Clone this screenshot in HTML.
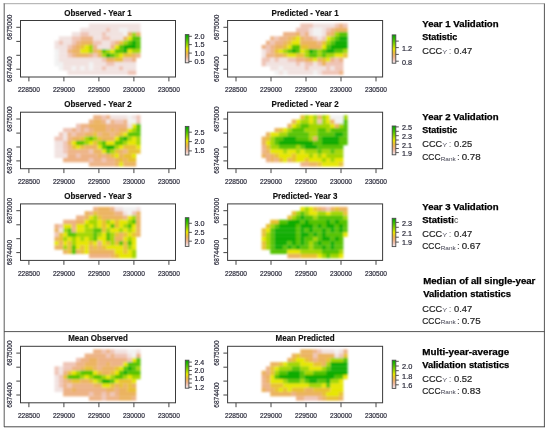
<!DOCTYPE html>
<html><head><meta charset="utf-8"><title>Validation maps</title>
<style>html,body{margin:0;padding:0;background:#fff;width:550px;height:433px;overflow:hidden}svg{display:block}</style>
</head><body>
<svg width="550" height="433" viewBox="0 0 550 433"><rect x="0" y="0" width="550" height="433" fill="#fff"/>
<defs><filter id="b0_0" x="-10%" y="-10%" width="120%" height="120%"><feGaussianBlur stdDeviation="1.0"/></filter></defs><g filter="url(#b0_0)"><rect x="88.90" y="23.50" width="51.65" height="4.33" fill="#f1e2e0"/><rect x="80.30" y="27.77" width="25.85" height="4.33" fill="#f1e2e0"/><rect x="106.10" y="27.77" width="4.35" height="4.33" fill="#efc4b6"/><rect x="110.40" y="27.77" width="8.65" height="4.33" fill="#f1e2e0"/><rect x="119.00" y="27.77" width="8.65" height="4.33" fill="#f2f2f2"/><rect x="127.60" y="27.77" width="12.95" height="4.33" fill="#f1e2e0"/><rect x="71.70" y="32.05" width="8.65" height="4.33" fill="#f1e2e0"/><rect x="80.30" y="32.05" width="8.65" height="4.33" fill="#efc4b6"/><rect x="88.90" y="32.05" width="12.95" height="4.33" fill="#f1e2e0"/><rect x="101.80" y="32.05" width="4.35" height="4.33" fill="#efc4b6"/><rect x="106.10" y="32.05" width="17.25" height="4.33" fill="#f1e2e0"/><rect x="123.30" y="32.05" width="4.35" height="4.33" fill="#f2f2f2"/><rect x="127.60" y="32.05" width="4.35" height="4.33" fill="#ebb25e"/><rect x="131.90" y="32.05" width="4.35" height="4.33" fill="#a3d600"/><rect x="136.20" y="32.05" width="4.35" height="4.33" fill="#ebb25e"/><rect x="58.80" y="36.33" width="12.95" height="4.33" fill="#f1e2e0"/><rect x="71.70" y="36.33" width="8.65" height="4.33" fill="#efc4b6"/><rect x="80.30" y="36.33" width="12.95" height="4.33" fill="#edb285"/><rect x="93.20" y="36.33" width="8.65" height="4.33" fill="#f1e2e0"/><rect x="101.80" y="36.33" width="8.65" height="4.33" fill="#efc4b6"/><rect x="110.40" y="36.33" width="12.95" height="4.33" fill="#f1e2e0"/><rect x="123.30" y="36.33" width="4.35" height="4.33" fill="#ebb25e"/><rect x="127.60" y="36.33" width="4.35" height="4.33" fill="#e6e600"/><rect x="131.90" y="36.33" width="8.65" height="4.33" fill="#55c200"/><rect x="54.50" y="40.60" width="4.35" height="4.33" fill="#f1e2e0"/><rect x="58.80" y="40.60" width="4.35" height="4.33" fill="#efc4b6"/><rect x="63.10" y="40.60" width="8.65" height="4.33" fill="#f1e2e0"/><rect x="71.70" y="40.60" width="4.35" height="4.33" fill="#efc4b6"/><rect x="76.00" y="40.60" width="4.35" height="4.33" fill="#edb285"/><rect x="80.30" y="40.60" width="12.95" height="4.33" fill="#ebb25e"/><rect x="93.20" y="40.60" width="8.65" height="4.33" fill="#efc4b6"/><rect x="101.80" y="40.60" width="8.65" height="4.33" fill="#f1e2e0"/><rect x="110.40" y="40.60" width="4.35" height="4.33" fill="#efc4b6"/><rect x="114.70" y="40.60" width="4.35" height="4.33" fill="#edb285"/><rect x="119.00" y="40.60" width="4.35" height="4.33" fill="#e8c033"/><rect x="123.30" y="40.60" width="4.35" height="4.33" fill="#a3d600"/><rect x="127.60" y="40.60" width="4.35" height="4.33" fill="#55c200"/><rect x="131.90" y="40.60" width="4.35" height="4.33" fill="#11ac00"/><rect x="136.20" y="40.60" width="4.35" height="4.33" fill="#55c200"/><rect x="54.50" y="44.88" width="12.95" height="4.33" fill="#f1e2e0"/><rect x="67.40" y="44.88" width="4.35" height="4.33" fill="#efc4b6"/><rect x="71.70" y="44.88" width="4.35" height="4.33" fill="#edb285"/><rect x="76.00" y="44.88" width="4.35" height="4.33" fill="#ebb25e"/><rect x="80.30" y="44.88" width="4.35" height="4.33" fill="#e8c033"/><rect x="84.60" y="44.88" width="4.35" height="4.33" fill="#e6e600"/><rect x="88.90" y="44.88" width="4.35" height="4.33" fill="#a3d600"/><rect x="93.20" y="44.88" width="4.35" height="4.33" fill="#edb285"/><rect x="97.50" y="44.88" width="12.95" height="4.33" fill="#f1e2e0"/><rect x="110.40" y="44.88" width="4.35" height="4.33" fill="#edb285"/><rect x="114.70" y="44.88" width="4.35" height="4.33" fill="#e6e600"/><rect x="119.00" y="44.88" width="4.35" height="4.33" fill="#55c200"/><rect x="123.30" y="44.88" width="12.95" height="4.33" fill="#11ac00"/><rect x="136.20" y="44.88" width="4.35" height="4.33" fill="#55c200"/><rect x="54.50" y="49.15" width="4.35" height="4.33" fill="#f2f2f2"/><rect x="58.80" y="49.15" width="8.65" height="4.33" fill="#f1e2e0"/><rect x="67.40" y="49.15" width="4.35" height="4.33" fill="#edb285"/><rect x="71.70" y="49.15" width="8.65" height="4.33" fill="#ebb25e"/><rect x="80.30" y="49.15" width="8.65" height="4.33" fill="#e6e600"/><rect x="88.90" y="49.15" width="4.35" height="4.33" fill="#a3d600"/><rect x="93.20" y="49.15" width="4.35" height="4.33" fill="#ebb25e"/><rect x="97.50" y="49.15" width="4.35" height="4.33" fill="#e8c033"/><rect x="101.80" y="49.15" width="4.35" height="4.33" fill="#55c200"/><rect x="106.10" y="49.15" width="4.35" height="4.33" fill="#a3d600"/><rect x="110.40" y="49.15" width="4.35" height="4.33" fill="#e6e600"/><rect x="114.70" y="49.15" width="8.65" height="4.33" fill="#55c200"/><rect x="123.30" y="49.15" width="4.35" height="4.33" fill="#11ac00"/><rect x="127.60" y="49.15" width="4.35" height="4.33" fill="#e6e600"/><rect x="131.90" y="49.15" width="8.65" height="4.33" fill="#a3d600"/><rect x="54.50" y="53.43" width="4.35" height="4.33" fill="#f2f2f2"/><rect x="58.80" y="53.43" width="8.65" height="4.33" fill="#f1e2e0"/><rect x="67.40" y="53.43" width="4.35" height="4.33" fill="#efc4b6"/><rect x="71.70" y="53.43" width="4.35" height="4.33" fill="#edb285"/><rect x="76.00" y="53.43" width="12.95" height="4.33" fill="#ebb25e"/><rect x="88.90" y="53.43" width="4.35" height="4.33" fill="#edb285"/><rect x="93.20" y="53.43" width="4.35" height="4.33" fill="#efc4b6"/><rect x="97.50" y="53.43" width="4.35" height="4.33" fill="#ebb25e"/><rect x="101.80" y="53.43" width="4.35" height="4.33" fill="#a3d600"/><rect x="106.10" y="53.43" width="4.35" height="4.33" fill="#11ac00"/><rect x="110.40" y="53.43" width="4.35" height="4.33" fill="#55c200"/><rect x="114.70" y="53.43" width="4.35" height="4.33" fill="#a3d600"/><rect x="119.00" y="53.43" width="4.35" height="4.33" fill="#e6e600"/><rect x="123.30" y="53.43" width="8.65" height="4.33" fill="#e8c033"/><rect x="131.90" y="53.43" width="4.35" height="4.33" fill="#ebb25e"/><rect x="136.20" y="53.43" width="4.35" height="4.33" fill="#edb285"/><rect x="54.50" y="57.70" width="4.35" height="4.33" fill="#f2f2f2"/><rect x="58.80" y="57.70" width="43.05" height="4.33" fill="#f1e2e0"/><rect x="101.80" y="57.70" width="4.35" height="4.33" fill="#efc4b6"/><rect x="106.10" y="57.70" width="8.65" height="4.33" fill="#ebb25e"/><rect x="114.70" y="57.70" width="8.65" height="4.33" fill="#e8c033"/><rect x="123.30" y="57.70" width="8.65" height="4.33" fill="#efc4b6"/><rect x="131.90" y="57.70" width="4.35" height="4.33" fill="#edb285"/><rect x="54.50" y="61.98" width="8.65" height="4.33" fill="#f2f2f2"/><rect x="63.10" y="61.98" width="25.85" height="4.33" fill="#f1e2e0"/><rect x="88.90" y="61.98" width="4.35" height="4.33" fill="#f2f2f2"/><rect x="93.20" y="61.98" width="12.95" height="4.33" fill="#f1e2e0"/><rect x="106.10" y="61.98" width="8.65" height="4.33" fill="#efc4b6"/><rect x="114.70" y="61.98" width="21.55" height="4.33" fill="#f1e2e0"/><rect x="58.80" y="66.25" width="4.35" height="4.33" fill="#f2f2f2"/><rect x="63.10" y="66.25" width="8.65" height="4.33" fill="#f1e2e0"/><rect x="71.70" y="66.25" width="4.35" height="4.33" fill="#f2f2f2"/><rect x="76.00" y="66.25" width="4.35" height="4.33" fill="#f1e2e0"/><rect x="80.30" y="66.25" width="4.35" height="4.33" fill="#f2f2f2"/><rect x="84.60" y="66.25" width="4.35" height="4.33" fill="#f1e2e0"/><rect x="88.90" y="66.25" width="4.35" height="4.33" fill="#f2f2f2"/><rect x="93.20" y="66.25" width="8.65" height="4.33" fill="#f1e2e0"/><rect x="101.80" y="66.25" width="4.35" height="4.33" fill="#efc4b6"/><rect x="106.10" y="66.25" width="12.95" height="4.33" fill="#f1e2e0"/><rect x="119.00" y="66.25" width="4.35" height="4.33" fill="#efc4b6"/><rect x="123.30" y="66.25" width="12.95" height="4.33" fill="#f1e2e0"/><rect x="67.40" y="70.53" width="60.25" height="4.33" fill="#f1e2e0"/><rect x="127.60" y="70.53" width="8.65" height="4.33" fill="#efc4b6"/></g>
<rect x="20.50" y="20.50" width="155.00" height="56.50" fill="none" stroke="#3a3a3a" stroke-width="1"/>
<line x1="16.30" y1="27.30" x2="20.50" y2="27.30" stroke="#444" stroke-width="1"/>
<line x1="16.30" y1="41.40" x2="20.50" y2="41.40" stroke="#444" stroke-width="1"/>
<line x1="16.30" y1="55.30" x2="20.50" y2="55.30" stroke="#444" stroke-width="1"/>
<line x1="16.30" y1="69.20" x2="20.50" y2="69.20" stroke="#444" stroke-width="1"/>
<line x1="28.90" y1="77.00" x2="28.90" y2="81.40" stroke="#444" stroke-width="1"/>
<line x1="63.90" y1="77.00" x2="63.90" y2="81.40" stroke="#444" stroke-width="1"/>
<line x1="98.90" y1="77.00" x2="98.90" y2="81.40" stroke="#444" stroke-width="1"/>
<line x1="133.90" y1="77.00" x2="133.90" y2="81.40" stroke="#444" stroke-width="1"/>
<line x1="168.90" y1="77.00" x2="168.90" y2="81.40" stroke="#444" stroke-width="1"/>
<text x="28.90" y="92.20" font-family="Liberation Sans, sans-serif" font-size="7.2" font-weight="normal" text-anchor="middle" fill="#2a2a3a" textLength="22.0" lengthAdjust="spacingAndGlyphs" stroke="#2a2a3a" stroke-width="0.2">228500</text>
<text x="63.90" y="92.20" font-family="Liberation Sans, sans-serif" font-size="7.2" font-weight="normal" text-anchor="middle" fill="#2a2a3a" textLength="22.0" lengthAdjust="spacingAndGlyphs" stroke="#2a2a3a" stroke-width="0.2">229000</text>
<text x="98.90" y="92.20" font-family="Liberation Sans, sans-serif" font-size="7.2" font-weight="normal" text-anchor="middle" fill="#2a2a3a" textLength="22.0" lengthAdjust="spacingAndGlyphs" stroke="#2a2a3a" stroke-width="0.2">229500</text>
<text x="133.90" y="92.20" font-family="Liberation Sans, sans-serif" font-size="7.2" font-weight="normal" text-anchor="middle" fill="#2a2a3a" textLength="22.0" lengthAdjust="spacingAndGlyphs" stroke="#2a2a3a" stroke-width="0.2">230000</text>
<text x="168.90" y="92.20" font-family="Liberation Sans, sans-serif" font-size="7.2" font-weight="normal" text-anchor="middle" fill="#2a2a3a" textLength="22.0" lengthAdjust="spacingAndGlyphs" stroke="#2a2a3a" stroke-width="0.2">230500</text>
<text x="0" y="0" transform="translate(12.00,27.30) rotate(-90)" font-family="Liberation Sans, sans-serif" font-size="7.2" text-anchor="middle" fill="#2a2a3a" stroke="#2a2a3a" stroke-width="0.2" textLength="25.5" lengthAdjust="spacingAndGlyphs">6875000</text>
<text x="0" y="0" transform="translate(12.00,69.20) rotate(-90)" font-family="Liberation Sans, sans-serif" font-size="7.2" text-anchor="middle" fill="#2a2a3a" stroke="#2a2a3a" stroke-width="0.2" textLength="25.5" lengthAdjust="spacingAndGlyphs">6874400</text>
<text x="98.00" y="15.60" font-family="Liberation Sans, sans-serif" font-size="8.5" font-weight="bold" text-anchor="middle" fill="#111" textLength="67.44" lengthAdjust="spacingAndGlyphs" stroke="#111" stroke-width="0.15">Observed - Year 1</text>
<defs><linearGradient id="g00" x1="0" y1="0" x2="0" y2="1"><stop offset="0.0" stop-color="#00a600"/><stop offset="0.1" stop-color="#24b200"/><stop offset="0.2" stop-color="#4cbf00"/><stop offset="0.3" stop-color="#7acc00"/><stop offset="0.4" stop-color="#add900"/><stop offset="0.5" stop-color="#e6e600"/><stop offset="0.6" stop-color="#e8c32e"/><stop offset="0.7" stop-color="#ebb25e"/><stop offset="0.8" stop-color="#edb48e"/><stop offset="0.9" stop-color="#f0c9c0"/><stop offset="1.0" stop-color="#f2f2f2"/></linearGradient></defs>
<rect x="185.30" y="34.60" width="3.60" height="28.20" fill="url(#g00)" stroke="#4a4a4a" stroke-width="0.9"/>
<line x1="188.90" y1="36.30" x2="191.90" y2="36.30" stroke="#444" stroke-width="0.9"/>
<text x="194.50" y="38.89" font-family="Liberation Sans, sans-serif" font-size="7.2" font-weight="normal" text-anchor="start" fill="#2a2a3a" stroke="#2a2a3a" stroke-width="0.2">2.0</text>
<line x1="188.90" y1="44.60" x2="191.90" y2="44.60" stroke="#444" stroke-width="0.9"/>
<text x="194.50" y="47.19" font-family="Liberation Sans, sans-serif" font-size="7.2" font-weight="normal" text-anchor="start" fill="#2a2a3a" stroke="#2a2a3a" stroke-width="0.2">1.5</text>
<line x1="188.90" y1="53.10" x2="191.90" y2="53.10" stroke="#444" stroke-width="0.9"/>
<text x="194.50" y="55.69" font-family="Liberation Sans, sans-serif" font-size="7.2" font-weight="normal" text-anchor="start" fill="#2a2a3a" stroke="#2a2a3a" stroke-width="0.2">1.0</text>
<line x1="188.90" y1="61.40" x2="191.90" y2="61.40" stroke="#444" stroke-width="0.9"/>
<text x="194.50" y="63.99" font-family="Liberation Sans, sans-serif" font-size="7.2" font-weight="normal" text-anchor="start" fill="#2a2a3a" stroke="#2a2a3a" stroke-width="0.2">0.5</text>
<defs><filter id="b207_0" x="-10%" y="-10%" width="120%" height="120%"><feGaussianBlur stdDeviation="1.0"/></filter></defs><g filter="url(#b207_0)"><rect x="300.30" y="23.50" width="12.95" height="4.33" fill="#efc4b6"/><rect x="313.20" y="23.50" width="21.55" height="4.33" fill="#f1e2e0"/><rect x="334.70" y="23.50" width="4.35" height="4.33" fill="#efc4b6"/><rect x="339.00" y="23.50" width="4.35" height="4.33" fill="#edb285"/><rect x="343.30" y="23.50" width="4.35" height="4.33" fill="#efc4b6"/><rect x="296.00" y="27.77" width="12.95" height="4.33" fill="#efc4b6"/><rect x="308.90" y="27.77" width="4.35" height="4.33" fill="#f1e2e0"/><rect x="313.20" y="27.77" width="8.65" height="4.33" fill="#f2f2f2"/><rect x="321.80" y="27.77" width="4.35" height="4.33" fill="#f1e2e0"/><rect x="326.10" y="27.77" width="4.35" height="4.33" fill="#efc4b6"/><rect x="330.40" y="27.77" width="4.35" height="4.33" fill="#edb285"/><rect x="334.70" y="27.77" width="12.95" height="4.33" fill="#ebb25e"/><rect x="283.10" y="32.05" width="12.95" height="4.33" fill="#edb285"/><rect x="296.00" y="32.05" width="4.35" height="4.33" fill="#ebb25e"/><rect x="300.30" y="32.05" width="4.35" height="4.33" fill="#efc4b6"/><rect x="304.60" y="32.05" width="4.35" height="4.33" fill="#edb285"/><rect x="308.90" y="32.05" width="4.35" height="4.33" fill="#f1e2e0"/><rect x="313.20" y="32.05" width="8.65" height="4.33" fill="#f2f2f2"/><rect x="321.80" y="32.05" width="4.35" height="4.33" fill="#f1e2e0"/><rect x="326.10" y="32.05" width="4.35" height="4.33" fill="#edb285"/><rect x="330.40" y="32.05" width="4.35" height="4.33" fill="#ebb25e"/><rect x="334.70" y="32.05" width="4.35" height="4.33" fill="#a3d600"/><rect x="339.00" y="32.05" width="8.65" height="4.33" fill="#55c200"/><rect x="270.20" y="36.33" width="4.35" height="4.33" fill="#edb285"/><rect x="274.50" y="36.33" width="4.35" height="4.33" fill="#efc4b6"/><rect x="278.80" y="36.33" width="8.65" height="4.33" fill="#edb285"/><rect x="287.40" y="36.33" width="4.35" height="4.33" fill="#ebb25e"/><rect x="291.70" y="36.33" width="4.35" height="4.33" fill="#e8c033"/><rect x="296.00" y="36.33" width="4.35" height="4.33" fill="#e6e600"/><rect x="300.30" y="36.33" width="4.35" height="4.33" fill="#ebb25e"/><rect x="304.60" y="36.33" width="8.65" height="4.33" fill="#edb285"/><rect x="313.20" y="36.33" width="4.35" height="4.33" fill="#efc4b6"/><rect x="317.50" y="36.33" width="4.35" height="4.33" fill="#f1e2e0"/><rect x="321.80" y="36.33" width="4.35" height="4.33" fill="#efc4b6"/><rect x="326.10" y="36.33" width="4.35" height="4.33" fill="#e6e600"/><rect x="330.40" y="36.33" width="4.35" height="4.33" fill="#a3d600"/><rect x="334.70" y="36.33" width="4.35" height="4.33" fill="#55c200"/><rect x="339.00" y="36.33" width="8.65" height="4.33" fill="#11ac00"/><rect x="265.90" y="40.60" width="4.35" height="4.33" fill="#edb285"/><rect x="270.20" y="40.60" width="4.35" height="4.33" fill="#efc4b6"/><rect x="274.50" y="40.60" width="8.65" height="4.33" fill="#edb285"/><rect x="283.10" y="40.60" width="4.35" height="4.33" fill="#ebb25e"/><rect x="287.40" y="40.60" width="4.35" height="4.33" fill="#e8c033"/><rect x="291.70" y="40.60" width="8.65" height="4.33" fill="#e6e600"/><rect x="300.30" y="40.60" width="17.25" height="4.33" fill="#ebb25e"/><rect x="317.50" y="40.60" width="4.35" height="4.33" fill="#edb285"/><rect x="321.80" y="40.60" width="4.35" height="4.33" fill="#e8c033"/><rect x="326.10" y="40.60" width="4.35" height="4.33" fill="#a3d600"/><rect x="330.40" y="40.60" width="4.35" height="4.33" fill="#55c200"/><rect x="334.70" y="40.60" width="12.95" height="4.33" fill="#11ac00"/><rect x="261.60" y="44.88" width="4.35" height="4.33" fill="#edb285"/><rect x="265.90" y="44.88" width="4.35" height="4.33" fill="#efc4b6"/><rect x="270.20" y="44.88" width="4.35" height="4.33" fill="#edb285"/><rect x="274.50" y="44.88" width="8.65" height="4.33" fill="#ebb25e"/><rect x="283.10" y="44.88" width="4.35" height="4.33" fill="#e8c033"/><rect x="287.40" y="44.88" width="4.35" height="4.33" fill="#e6e600"/><rect x="291.70" y="44.88" width="8.65" height="4.33" fill="#55c200"/><rect x="300.30" y="44.88" width="8.65" height="4.33" fill="#e8c033"/><rect x="308.90" y="44.88" width="12.95" height="4.33" fill="#ebb25e"/><rect x="321.80" y="44.88" width="4.35" height="4.33" fill="#e6e600"/><rect x="326.10" y="44.88" width="4.35" height="4.33" fill="#55c200"/><rect x="330.40" y="44.88" width="17.25" height="4.33" fill="#11ac00"/><rect x="261.60" y="49.15" width="4.35" height="4.33" fill="#f1e2e0"/><rect x="265.90" y="49.15" width="4.35" height="4.33" fill="#efc4b6"/><rect x="270.20" y="49.15" width="4.35" height="4.33" fill="#edb285"/><rect x="274.50" y="49.15" width="4.35" height="4.33" fill="#e8c033"/><rect x="278.80" y="49.15" width="4.35" height="4.33" fill="#e6e600"/><rect x="283.10" y="49.15" width="4.35" height="4.33" fill="#a3d600"/><rect x="287.40" y="49.15" width="4.35" height="4.33" fill="#55c200"/><rect x="291.70" y="49.15" width="4.35" height="4.33" fill="#11ac00"/><rect x="296.00" y="49.15" width="4.35" height="4.33" fill="#55c200"/><rect x="300.30" y="49.15" width="4.35" height="4.33" fill="#e6e600"/><rect x="304.60" y="49.15" width="4.35" height="4.33" fill="#a3d600"/><rect x="308.90" y="49.15" width="4.35" height="4.33" fill="#11ac00"/><rect x="313.20" y="49.15" width="4.35" height="4.33" fill="#55c200"/><rect x="317.50" y="49.15" width="4.35" height="4.33" fill="#a3d600"/><rect x="321.80" y="49.15" width="4.35" height="4.33" fill="#55c200"/><rect x="326.10" y="49.15" width="8.65" height="4.33" fill="#11ac00"/><rect x="334.70" y="49.15" width="8.65" height="4.33" fill="#55c200"/><rect x="343.30" y="49.15" width="4.35" height="4.33" fill="#a3d600"/><rect x="261.60" y="53.43" width="4.35" height="4.33" fill="#f1e2e0"/><rect x="265.90" y="53.43" width="8.65" height="4.33" fill="#edb285"/><rect x="274.50" y="53.43" width="8.65" height="4.33" fill="#ebb25e"/><rect x="283.10" y="53.43" width="4.35" height="4.33" fill="#e8c033"/><rect x="287.40" y="53.43" width="8.65" height="4.33" fill="#e6e600"/><rect x="296.00" y="53.43" width="8.65" height="4.33" fill="#e8c033"/><rect x="304.60" y="53.43" width="4.35" height="4.33" fill="#a3d600"/><rect x="308.90" y="53.43" width="8.65" height="4.33" fill="#55c200"/><rect x="317.50" y="53.43" width="4.35" height="4.33" fill="#a3d600"/><rect x="321.80" y="53.43" width="4.35" height="4.33" fill="#55c200"/><rect x="326.10" y="53.43" width="8.65" height="4.33" fill="#a3d600"/><rect x="334.70" y="53.43" width="8.65" height="4.33" fill="#e6e600"/><rect x="343.30" y="53.43" width="4.35" height="4.33" fill="#e8c033"/><rect x="261.60" y="57.70" width="8.65" height="4.33" fill="#efc4b6"/><rect x="270.20" y="57.70" width="4.35" height="4.33" fill="#f1e2e0"/><rect x="274.50" y="57.70" width="4.35" height="4.33" fill="#efc4b6"/><rect x="278.80" y="57.70" width="8.65" height="4.33" fill="#f1e2e0"/><rect x="287.40" y="57.70" width="8.65" height="4.33" fill="#efc4b6"/><rect x="296.00" y="57.70" width="8.65" height="4.33" fill="#edb285"/><rect x="304.60" y="57.70" width="4.35" height="4.33" fill="#ebb25e"/><rect x="308.90" y="57.70" width="4.35" height="4.33" fill="#e8c033"/><rect x="313.20" y="57.70" width="4.35" height="4.33" fill="#e6e600"/><rect x="317.50" y="57.70" width="4.35" height="4.33" fill="#ebb25e"/><rect x="321.80" y="57.70" width="4.35" height="4.33" fill="#e8c033"/><rect x="326.10" y="57.70" width="4.35" height="4.33" fill="#e6e600"/><rect x="330.40" y="57.70" width="4.35" height="4.33" fill="#edb285"/><rect x="334.70" y="57.70" width="4.35" height="4.33" fill="#efc4b6"/><rect x="339.00" y="57.70" width="4.35" height="4.33" fill="#edb285"/><rect x="261.60" y="61.98" width="4.35" height="4.33" fill="#efc4b6"/><rect x="265.90" y="61.98" width="30.15" height="4.33" fill="#f1e2e0"/><rect x="296.00" y="61.98" width="4.35" height="4.33" fill="#efc4b6"/><rect x="300.30" y="61.98" width="4.35" height="4.33" fill="#f1e2e0"/><rect x="304.60" y="61.98" width="8.65" height="4.33" fill="#efc4b6"/><rect x="313.20" y="61.98" width="4.35" height="4.33" fill="#f1e2e0"/><rect x="317.50" y="61.98" width="4.35" height="4.33" fill="#efc4b6"/><rect x="321.80" y="61.98" width="4.35" height="4.33" fill="#ebb25e"/><rect x="326.10" y="61.98" width="17.25" height="4.33" fill="#efc4b6"/><rect x="270.20" y="66.25" width="8.65" height="4.33" fill="#f1e2e0"/><rect x="278.80" y="66.25" width="4.35" height="4.33" fill="#f2f2f2"/><rect x="283.10" y="66.25" width="21.55" height="4.33" fill="#f1e2e0"/><rect x="304.60" y="66.25" width="4.35" height="4.33" fill="#efc4b6"/><rect x="308.90" y="66.25" width="17.25" height="4.33" fill="#f1e2e0"/><rect x="326.10" y="66.25" width="4.35" height="4.33" fill="#efc4b6"/><rect x="330.40" y="66.25" width="4.35" height="4.33" fill="#f1e2e0"/><rect x="334.70" y="66.25" width="8.65" height="4.33" fill="#efc4b6"/><rect x="274.50" y="70.53" width="4.35" height="4.33" fill="#f2f2f2"/><rect x="278.80" y="70.53" width="4.35" height="4.33" fill="#f1e2e0"/><rect x="283.10" y="70.53" width="4.35" height="4.33" fill="#f2f2f2"/><rect x="287.40" y="70.53" width="25.85" height="4.33" fill="#f1e2e0"/><rect x="313.20" y="70.53" width="4.35" height="4.33" fill="#f2f2f2"/><rect x="317.50" y="70.53" width="4.35" height="4.33" fill="#f1e2e0"/><rect x="321.80" y="70.53" width="17.25" height="4.33" fill="#efc4b6"/><rect x="339.00" y="70.53" width="4.35" height="4.33" fill="#edb285"/></g>
<rect x="227.60" y="20.50" width="155.00" height="56.50" fill="none" stroke="#3a3a3a" stroke-width="1"/>
<line x1="223.40" y1="27.30" x2="227.60" y2="27.30" stroke="#444" stroke-width="1"/>
<line x1="223.40" y1="41.40" x2="227.60" y2="41.40" stroke="#444" stroke-width="1"/>
<line x1="223.40" y1="55.30" x2="227.60" y2="55.30" stroke="#444" stroke-width="1"/>
<line x1="223.40" y1="69.20" x2="227.60" y2="69.20" stroke="#444" stroke-width="1"/>
<line x1="236.00" y1="77.00" x2="236.00" y2="81.40" stroke="#444" stroke-width="1"/>
<line x1="271.00" y1="77.00" x2="271.00" y2="81.40" stroke="#444" stroke-width="1"/>
<line x1="306.00" y1="77.00" x2="306.00" y2="81.40" stroke="#444" stroke-width="1"/>
<line x1="341.00" y1="77.00" x2="341.00" y2="81.40" stroke="#444" stroke-width="1"/>
<line x1="376.00" y1="77.00" x2="376.00" y2="81.40" stroke="#444" stroke-width="1"/>
<text x="236.00" y="92.20" font-family="Liberation Sans, sans-serif" font-size="7.2" font-weight="normal" text-anchor="middle" fill="#2a2a3a" textLength="22.0" lengthAdjust="spacingAndGlyphs" stroke="#2a2a3a" stroke-width="0.2">228500</text>
<text x="271.00" y="92.20" font-family="Liberation Sans, sans-serif" font-size="7.2" font-weight="normal" text-anchor="middle" fill="#2a2a3a" textLength="22.0" lengthAdjust="spacingAndGlyphs" stroke="#2a2a3a" stroke-width="0.2">229000</text>
<text x="306.00" y="92.20" font-family="Liberation Sans, sans-serif" font-size="7.2" font-weight="normal" text-anchor="middle" fill="#2a2a3a" textLength="22.0" lengthAdjust="spacingAndGlyphs" stroke="#2a2a3a" stroke-width="0.2">229500</text>
<text x="341.00" y="92.20" font-family="Liberation Sans, sans-serif" font-size="7.2" font-weight="normal" text-anchor="middle" fill="#2a2a3a" textLength="22.0" lengthAdjust="spacingAndGlyphs" stroke="#2a2a3a" stroke-width="0.2">230000</text>
<text x="376.00" y="92.20" font-family="Liberation Sans, sans-serif" font-size="7.2" font-weight="normal" text-anchor="middle" fill="#2a2a3a" textLength="22.0" lengthAdjust="spacingAndGlyphs" stroke="#2a2a3a" stroke-width="0.2">230500</text>
<text x="0" y="0" transform="translate(219.10,27.30) rotate(-90)" font-family="Liberation Sans, sans-serif" font-size="7.2" text-anchor="middle" fill="#2a2a3a" stroke="#2a2a3a" stroke-width="0.2" textLength="25.5" lengthAdjust="spacingAndGlyphs">6875000</text>
<text x="0" y="0" transform="translate(219.10,69.20) rotate(-90)" font-family="Liberation Sans, sans-serif" font-size="7.2" text-anchor="middle" fill="#2a2a3a" stroke="#2a2a3a" stroke-width="0.2" textLength="25.5" lengthAdjust="spacingAndGlyphs">6874400</text>
<text x="305.10" y="15.60" font-family="Liberation Sans, sans-serif" font-size="8.5" font-weight="bold" text-anchor="middle" fill="#111" textLength="67.0" lengthAdjust="spacingAndGlyphs" stroke="#111" stroke-width="0.15">Predicted - Year 1</text>
<defs><linearGradient id="g01" x1="0" y1="0" x2="0" y2="1"><stop offset="0.0" stop-color="#00a600"/><stop offset="0.1" stop-color="#24b200"/><stop offset="0.2" stop-color="#4cbf00"/><stop offset="0.3" stop-color="#7acc00"/><stop offset="0.4" stop-color="#add900"/><stop offset="0.5" stop-color="#e6e600"/><stop offset="0.6" stop-color="#e8c32e"/><stop offset="0.7" stop-color="#ebb25e"/><stop offset="0.8" stop-color="#edb48e"/><stop offset="0.9" stop-color="#f0c9c0"/><stop offset="1.0" stop-color="#f2f2f2"/></linearGradient></defs>
<rect x="392.20" y="34.90" width="3.60" height="28.30" fill="url(#g01)" stroke="#4a4a4a" stroke-width="0.9"/>
<line x1="395.80" y1="41.10" x2="398.80" y2="41.10" stroke="#444" stroke-width="0.9"/>
<line x1="395.80" y1="47.60" x2="398.80" y2="47.60" stroke="#444" stroke-width="0.9"/>
<text x="402.10" y="50.95" font-family="Liberation Sans, sans-serif" font-size="7.2" font-weight="normal" text-anchor="start" fill="#2a2a3a" stroke="#2a2a3a" stroke-width="0.2">1.2</text>
<line x1="395.80" y1="54.40" x2="398.80" y2="54.40" stroke="#444" stroke-width="0.9"/>
<line x1="395.80" y1="61.20" x2="398.80" y2="61.20" stroke="#444" stroke-width="0.9"/>
<text x="402.10" y="64.55" font-family="Liberation Sans, sans-serif" font-size="7.2" font-weight="normal" text-anchor="start" fill="#2a2a3a" stroke="#2a2a3a" stroke-width="0.2">0.8</text>
<defs><filter id="b0_91" x="-10%" y="-10%" width="120%" height="120%"><feGaussianBlur stdDeviation="1.0"/></filter></defs><g filter="url(#b0_91)"><rect x="93.20" y="115.20" width="8.65" height="4.33" fill="#edb285"/><rect x="101.80" y="115.20" width="4.35" height="4.33" fill="#efc4b6"/><rect x="106.10" y="115.20" width="4.35" height="4.33" fill="#edb285"/><rect x="110.40" y="115.20" width="17.25" height="4.33" fill="#f1e2e0"/><rect x="127.60" y="115.20" width="4.35" height="4.33" fill="#f2f2f2"/><rect x="131.90" y="115.20" width="4.35" height="4.33" fill="#f1e2e0"/><rect x="136.20" y="115.20" width="4.35" height="4.33" fill="#efc4b6"/><rect x="88.90" y="119.48" width="4.35" height="4.33" fill="#edb285"/><rect x="93.20" y="119.48" width="8.65" height="4.33" fill="#ebb25e"/><rect x="101.80" y="119.48" width="4.35" height="4.33" fill="#edb285"/><rect x="106.10" y="119.48" width="4.35" height="4.33" fill="#f1e2e0"/><rect x="110.40" y="119.48" width="4.35" height="4.33" fill="#edb285"/><rect x="114.70" y="119.48" width="8.65" height="4.33" fill="#efc4b6"/><rect x="123.30" y="119.48" width="4.35" height="4.33" fill="#edb285"/><rect x="127.60" y="119.48" width="8.65" height="4.33" fill="#f2f2f2"/><rect x="136.20" y="119.48" width="4.35" height="4.33" fill="#efc4b6"/><rect x="76.00" y="123.75" width="4.35" height="4.33" fill="#efc4b6"/><rect x="80.30" y="123.75" width="8.65" height="4.33" fill="#edb285"/><rect x="88.90" y="123.75" width="17.25" height="4.33" fill="#ebb25e"/><rect x="106.10" y="123.75" width="21.55" height="4.33" fill="#edb285"/><rect x="127.60" y="123.75" width="4.35" height="4.33" fill="#f1e2e0"/><rect x="131.90" y="123.75" width="4.35" height="4.33" fill="#e6e600"/><rect x="136.20" y="123.75" width="4.35" height="4.33" fill="#55c200"/><rect x="63.10" y="128.03" width="8.65" height="4.33" fill="#efc4b6"/><rect x="71.70" y="128.03" width="4.35" height="4.33" fill="#edb285"/><rect x="76.00" y="128.03" width="4.35" height="4.33" fill="#efc4b6"/><rect x="80.30" y="128.03" width="4.35" height="4.33" fill="#edb285"/><rect x="84.60" y="128.03" width="4.35" height="4.33" fill="#efc4b6"/><rect x="88.90" y="128.03" width="4.35" height="4.33" fill="#edb285"/><rect x="93.20" y="128.03" width="12.95" height="4.33" fill="#ebb25e"/><rect x="106.10" y="128.03" width="4.35" height="4.33" fill="#edb285"/><rect x="110.40" y="128.03" width="4.35" height="4.33" fill="#ebb25e"/><rect x="114.70" y="128.03" width="4.35" height="4.33" fill="#edb285"/><rect x="119.00" y="128.03" width="8.65" height="4.33" fill="#ebb25e"/><rect x="127.60" y="128.03" width="4.35" height="4.33" fill="#e6e600"/><rect x="131.90" y="128.03" width="4.35" height="4.33" fill="#a3d600"/><rect x="136.20" y="128.03" width="4.35" height="4.33" fill="#55c200"/><rect x="58.80" y="132.30" width="4.35" height="4.33" fill="#efc4b6"/><rect x="63.10" y="132.30" width="4.35" height="4.33" fill="#f1e2e0"/><rect x="67.40" y="132.30" width="4.35" height="4.33" fill="#edb285"/><rect x="71.70" y="132.30" width="4.35" height="4.33" fill="#efc4b6"/><rect x="76.00" y="132.30" width="8.65" height="4.33" fill="#edb285"/><rect x="84.60" y="132.30" width="8.65" height="4.33" fill="#ebb25e"/><rect x="93.20" y="132.30" width="4.35" height="4.33" fill="#e8c033"/><rect x="97.50" y="132.30" width="4.35" height="4.33" fill="#edb285"/><rect x="101.80" y="132.30" width="8.65" height="4.33" fill="#ebb25e"/><rect x="110.40" y="132.30" width="4.35" height="4.33" fill="#edb285"/><rect x="114.70" y="132.30" width="4.35" height="4.33" fill="#ebb25e"/><rect x="119.00" y="132.30" width="4.35" height="4.33" fill="#e8c033"/><rect x="123.30" y="132.30" width="4.35" height="4.33" fill="#e6e600"/><rect x="127.60" y="132.30" width="12.95" height="4.33" fill="#55c200"/><rect x="54.50" y="136.57" width="8.65" height="4.33" fill="#efc4b6"/><rect x="63.10" y="136.57" width="4.35" height="4.33" fill="#f1e2e0"/><rect x="67.40" y="136.57" width="4.35" height="4.33" fill="#edb285"/><rect x="71.70" y="136.57" width="8.65" height="4.33" fill="#ebb25e"/><rect x="80.30" y="136.57" width="4.35" height="4.33" fill="#e8c033"/><rect x="84.60" y="136.57" width="4.35" height="4.33" fill="#a3d600"/><rect x="88.90" y="136.57" width="4.35" height="4.33" fill="#55c200"/><rect x="93.20" y="136.57" width="4.35" height="4.33" fill="#a3d600"/><rect x="97.50" y="136.57" width="4.35" height="4.33" fill="#e8c033"/><rect x="101.80" y="136.57" width="12.95" height="4.33" fill="#ebb25e"/><rect x="114.70" y="136.57" width="4.35" height="4.33" fill="#e6e600"/><rect x="119.00" y="136.57" width="4.35" height="4.33" fill="#55c200"/><rect x="123.30" y="136.57" width="4.35" height="4.33" fill="#11ac00"/><rect x="127.60" y="136.57" width="4.35" height="4.33" fill="#a3d600"/><rect x="131.90" y="136.57" width="4.35" height="4.33" fill="#e6e600"/><rect x="136.20" y="136.57" width="4.35" height="4.33" fill="#a3d600"/><rect x="54.50" y="140.85" width="8.65" height="4.33" fill="#f1e2e0"/><rect x="63.10" y="140.85" width="4.35" height="4.33" fill="#efc4b6"/><rect x="67.40" y="140.85" width="4.35" height="4.33" fill="#ebb25e"/><rect x="71.70" y="140.85" width="4.35" height="4.33" fill="#e6e600"/><rect x="76.00" y="140.85" width="8.65" height="4.33" fill="#55c200"/><rect x="84.60" y="140.85" width="4.35" height="4.33" fill="#a3d600"/><rect x="88.90" y="140.85" width="4.35" height="4.33" fill="#e6e600"/><rect x="93.20" y="140.85" width="4.35" height="4.33" fill="#e8c033"/><rect x="97.50" y="140.85" width="4.35" height="4.33" fill="#a3d600"/><rect x="101.80" y="140.85" width="4.35" height="4.33" fill="#55c200"/><rect x="106.10" y="140.85" width="8.65" height="4.33" fill="#e6e600"/><rect x="114.70" y="140.85" width="8.65" height="4.33" fill="#55c200"/><rect x="123.30" y="140.85" width="4.35" height="4.33" fill="#a3d600"/><rect x="127.60" y="140.85" width="8.65" height="4.33" fill="#e6e600"/><rect x="136.20" y="140.85" width="4.35" height="4.33" fill="#a3d600"/><rect x="54.50" y="145.12" width="8.65" height="4.33" fill="#f1e2e0"/><rect x="63.10" y="145.12" width="4.35" height="4.33" fill="#efc4b6"/><rect x="67.40" y="145.12" width="4.35" height="4.33" fill="#edb285"/><rect x="71.70" y="145.12" width="4.35" height="4.33" fill="#e8c033"/><rect x="76.00" y="145.12" width="4.35" height="4.33" fill="#e6e600"/><rect x="80.30" y="145.12" width="4.35" height="4.33" fill="#e8c033"/><rect x="84.60" y="145.12" width="12.95" height="4.33" fill="#ebb25e"/><rect x="97.50" y="145.12" width="4.35" height="4.33" fill="#e6e600"/><rect x="101.80" y="145.12" width="4.35" height="4.33" fill="#55c200"/><rect x="106.10" y="145.12" width="8.65" height="4.33" fill="#11ac00"/><rect x="114.70" y="145.12" width="4.35" height="4.33" fill="#a3d600"/><rect x="119.00" y="145.12" width="4.35" height="4.33" fill="#e6e600"/><rect x="123.30" y="145.12" width="12.95" height="4.33" fill="#e8c033"/><rect x="136.20" y="145.12" width="4.35" height="4.33" fill="#e6e600"/><rect x="54.50" y="149.40" width="8.65" height="4.33" fill="#f1e2e0"/><rect x="63.10" y="149.40" width="4.35" height="4.33" fill="#efc4b6"/><rect x="67.40" y="149.40" width="21.55" height="4.33" fill="#edb285"/><rect x="88.90" y="149.40" width="4.35" height="4.33" fill="#efc4b6"/><rect x="93.20" y="149.40" width="8.65" height="4.33" fill="#ebb25e"/><rect x="101.80" y="149.40" width="4.35" height="4.33" fill="#e6e600"/><rect x="106.10" y="149.40" width="4.35" height="4.33" fill="#55c200"/><rect x="110.40" y="149.40" width="4.35" height="4.33" fill="#a3d600"/><rect x="114.70" y="149.40" width="4.35" height="4.33" fill="#e8c033"/><rect x="119.00" y="149.40" width="4.35" height="4.33" fill="#ebb25e"/><rect x="123.30" y="149.40" width="4.35" height="4.33" fill="#edb285"/><rect x="127.60" y="149.40" width="12.95" height="4.33" fill="#e8c033"/><rect x="54.50" y="153.68" width="12.95" height="4.33" fill="#f1e2e0"/><rect x="67.40" y="153.68" width="8.65" height="4.33" fill="#edb285"/><rect x="76.00" y="153.68" width="4.35" height="4.33" fill="#efc4b6"/><rect x="80.30" y="153.68" width="17.25" height="4.33" fill="#edb285"/><rect x="97.50" y="153.68" width="4.35" height="4.33" fill="#ebb25e"/><rect x="101.80" y="153.68" width="4.35" height="4.33" fill="#edb285"/><rect x="106.10" y="153.68" width="4.35" height="4.33" fill="#ebb25e"/><rect x="110.40" y="153.68" width="4.35" height="4.33" fill="#e8c033"/><rect x="114.70" y="153.68" width="4.35" height="4.33" fill="#e6e600"/><rect x="119.00" y="153.68" width="4.35" height="4.33" fill="#ebb25e"/><rect x="123.30" y="153.68" width="8.65" height="4.33" fill="#e8c033"/><rect x="131.90" y="153.68" width="4.35" height="4.33" fill="#e6e600"/><rect x="63.10" y="157.95" width="25.85" height="4.33" fill="#edb285"/><rect x="88.90" y="157.95" width="4.35" height="4.33" fill="#efc4b6"/><rect x="93.20" y="157.95" width="8.65" height="4.33" fill="#edb285"/><rect x="101.80" y="157.95" width="4.35" height="4.33" fill="#efc4b6"/><rect x="106.10" y="157.95" width="8.65" height="4.33" fill="#edb285"/><rect x="114.70" y="157.95" width="4.35" height="4.33" fill="#ebb25e"/><rect x="119.00" y="157.95" width="4.35" height="4.33" fill="#e8c033"/><rect x="123.30" y="157.95" width="4.35" height="4.33" fill="#ebb25e"/><rect x="127.60" y="157.95" width="8.65" height="4.33" fill="#e8c033"/><rect x="88.90" y="162.23" width="25.85" height="4.33" fill="#edb285"/><rect x="114.70" y="162.23" width="4.35" height="4.33" fill="#ebb25e"/><rect x="119.00" y="162.23" width="4.35" height="4.33" fill="#e6e600"/><rect x="123.30" y="162.23" width="12.95" height="4.33" fill="#ebb25e"/></g>
<rect x="20.50" y="112.20" width="155.00" height="56.50" fill="none" stroke="#3a3a3a" stroke-width="1"/>
<line x1="16.30" y1="119.00" x2="20.50" y2="119.00" stroke="#444" stroke-width="1"/>
<line x1="16.30" y1="133.10" x2="20.50" y2="133.10" stroke="#444" stroke-width="1"/>
<line x1="16.30" y1="147.00" x2="20.50" y2="147.00" stroke="#444" stroke-width="1"/>
<line x1="16.30" y1="160.90" x2="20.50" y2="160.90" stroke="#444" stroke-width="1"/>
<line x1="28.90" y1="168.70" x2="28.90" y2="173.10" stroke="#444" stroke-width="1"/>
<line x1="63.90" y1="168.70" x2="63.90" y2="173.10" stroke="#444" stroke-width="1"/>
<line x1="98.90" y1="168.70" x2="98.90" y2="173.10" stroke="#444" stroke-width="1"/>
<line x1="133.90" y1="168.70" x2="133.90" y2="173.10" stroke="#444" stroke-width="1"/>
<line x1="168.90" y1="168.70" x2="168.90" y2="173.10" stroke="#444" stroke-width="1"/>
<text x="28.90" y="183.90" font-family="Liberation Sans, sans-serif" font-size="7.2" font-weight="normal" text-anchor="middle" fill="#2a2a3a" textLength="22.0" lengthAdjust="spacingAndGlyphs" stroke="#2a2a3a" stroke-width="0.2">228500</text>
<text x="63.90" y="183.90" font-family="Liberation Sans, sans-serif" font-size="7.2" font-weight="normal" text-anchor="middle" fill="#2a2a3a" textLength="22.0" lengthAdjust="spacingAndGlyphs" stroke="#2a2a3a" stroke-width="0.2">229000</text>
<text x="98.90" y="183.90" font-family="Liberation Sans, sans-serif" font-size="7.2" font-weight="normal" text-anchor="middle" fill="#2a2a3a" textLength="22.0" lengthAdjust="spacingAndGlyphs" stroke="#2a2a3a" stroke-width="0.2">229500</text>
<text x="133.90" y="183.90" font-family="Liberation Sans, sans-serif" font-size="7.2" font-weight="normal" text-anchor="middle" fill="#2a2a3a" textLength="22.0" lengthAdjust="spacingAndGlyphs" stroke="#2a2a3a" stroke-width="0.2">230000</text>
<text x="168.90" y="183.90" font-family="Liberation Sans, sans-serif" font-size="7.2" font-weight="normal" text-anchor="middle" fill="#2a2a3a" textLength="22.0" lengthAdjust="spacingAndGlyphs" stroke="#2a2a3a" stroke-width="0.2">230500</text>
<text x="0" y="0" transform="translate(12.00,119.00) rotate(-90)" font-family="Liberation Sans, sans-serif" font-size="7.2" text-anchor="middle" fill="#2a2a3a" stroke="#2a2a3a" stroke-width="0.2" textLength="25.5" lengthAdjust="spacingAndGlyphs">6875000</text>
<text x="0" y="0" transform="translate(12.00,160.90) rotate(-90)" font-family="Liberation Sans, sans-serif" font-size="7.2" text-anchor="middle" fill="#2a2a3a" stroke="#2a2a3a" stroke-width="0.2" textLength="25.5" lengthAdjust="spacingAndGlyphs">6874400</text>
<text x="98.00" y="107.30" font-family="Liberation Sans, sans-serif" font-size="8.5" font-weight="bold" text-anchor="middle" fill="#111" textLength="67.44" lengthAdjust="spacingAndGlyphs" stroke="#111" stroke-width="0.15">Observed - Year 2</text>
<defs><linearGradient id="g10" x1="0" y1="0" x2="0" y2="1"><stop offset="0.0" stop-color="#00a600"/><stop offset="0.1" stop-color="#24b200"/><stop offset="0.2" stop-color="#4cbf00"/><stop offset="0.3" stop-color="#7acc00"/><stop offset="0.4" stop-color="#add900"/><stop offset="0.5" stop-color="#e6e600"/><stop offset="0.6" stop-color="#e8c32e"/><stop offset="0.7" stop-color="#ebb25e"/><stop offset="0.8" stop-color="#edb48e"/><stop offset="0.9" stop-color="#f0c9c0"/><stop offset="1.0" stop-color="#f2f2f2"/></linearGradient></defs>
<rect x="185.30" y="126.40" width="3.60" height="28.60" fill="url(#g10)" stroke="#4a4a4a" stroke-width="0.9"/>
<line x1="188.90" y1="132.20" x2="191.90" y2="132.20" stroke="#444" stroke-width="0.9"/>
<text x="194.50" y="134.79" font-family="Liberation Sans, sans-serif" font-size="7.2" font-weight="normal" text-anchor="start" fill="#2a2a3a" stroke="#2a2a3a" stroke-width="0.2">2.5</text>
<line x1="188.90" y1="141.60" x2="191.90" y2="141.60" stroke="#444" stroke-width="0.9"/>
<text x="194.50" y="144.19" font-family="Liberation Sans, sans-serif" font-size="7.2" font-weight="normal" text-anchor="start" fill="#2a2a3a" stroke="#2a2a3a" stroke-width="0.2">2.0</text>
<line x1="188.90" y1="150.90" x2="191.90" y2="150.90" stroke="#444" stroke-width="0.9"/>
<text x="194.50" y="153.49" font-family="Liberation Sans, sans-serif" font-size="7.2" font-weight="normal" text-anchor="start" fill="#2a2a3a" stroke="#2a2a3a" stroke-width="0.2">1.5</text>
<defs><filter id="b207_91" x="-10%" y="-10%" width="120%" height="120%"><feGaussianBlur stdDeviation="1.0"/></filter></defs><g filter="url(#b207_91)"><rect x="300.30" y="115.20" width="4.35" height="4.33" fill="#e8c033"/><rect x="304.60" y="115.20" width="4.35" height="4.33" fill="#a3d600"/><rect x="308.90" y="115.20" width="4.35" height="4.33" fill="#e6e600"/><rect x="313.20" y="115.20" width="4.35" height="4.33" fill="#a3d600"/><rect x="317.50" y="115.20" width="4.35" height="4.33" fill="#ebb25e"/><rect x="321.80" y="115.20" width="4.35" height="4.33" fill="#a3d600"/><rect x="326.10" y="115.20" width="4.35" height="4.33" fill="#e6e600"/><rect x="330.40" y="115.20" width="12.95" height="4.33" fill="#f2f2f2"/><rect x="343.30" y="115.20" width="4.35" height="4.33" fill="#a3d600"/><rect x="291.70" y="119.48" width="4.35" height="4.33" fill="#ebb25e"/><rect x="296.00" y="119.48" width="4.35" height="4.33" fill="#e6e600"/><rect x="300.30" y="119.48" width="8.65" height="4.33" fill="#a3d600"/><rect x="308.90" y="119.48" width="4.35" height="4.33" fill="#e6e600"/><rect x="313.20" y="119.48" width="4.35" height="4.33" fill="#a3d600"/><rect x="317.50" y="119.48" width="4.35" height="4.33" fill="#efc4b6"/><rect x="321.80" y="119.48" width="4.35" height="4.33" fill="#a3d600"/><rect x="326.10" y="119.48" width="4.35" height="4.33" fill="#e6e600"/><rect x="330.40" y="119.48" width="4.35" height="4.33" fill="#ebb25e"/><rect x="334.70" y="119.48" width="8.65" height="4.33" fill="#f2f2f2"/><rect x="343.30" y="119.48" width="4.35" height="4.33" fill="#55c200"/><rect x="287.40" y="123.75" width="4.35" height="4.33" fill="#ebb25e"/><rect x="291.70" y="123.75" width="4.35" height="4.33" fill="#e6e600"/><rect x="296.00" y="123.75" width="4.35" height="4.33" fill="#a3d600"/><rect x="300.30" y="123.75" width="8.65" height="4.33" fill="#55c200"/><rect x="308.90" y="123.75" width="21.55" height="4.33" fill="#a3d600"/><rect x="330.40" y="123.75" width="4.35" height="4.33" fill="#e6e600"/><rect x="334.70" y="123.75" width="4.35" height="4.33" fill="#ebb25e"/><rect x="339.00" y="123.75" width="4.35" height="4.33" fill="#a3d600"/><rect x="343.30" y="123.75" width="4.35" height="4.33" fill="#55c200"/><rect x="274.50" y="128.03" width="4.35" height="4.33" fill="#ebb25e"/><rect x="278.80" y="128.03" width="4.35" height="4.33" fill="#e8c033"/><rect x="283.10" y="128.03" width="4.35" height="4.33" fill="#e6e600"/><rect x="287.40" y="128.03" width="4.35" height="4.33" fill="#a3d600"/><rect x="291.70" y="128.03" width="12.95" height="4.33" fill="#55c200"/><rect x="304.60" y="128.03" width="12.95" height="4.33" fill="#a3d600"/><rect x="317.50" y="128.03" width="8.65" height="4.33" fill="#55c200"/><rect x="326.10" y="128.03" width="4.35" height="4.33" fill="#a3d600"/><rect x="330.40" y="128.03" width="17.25" height="4.33" fill="#55c200"/><rect x="265.90" y="132.30" width="4.35" height="4.33" fill="#ebb25e"/><rect x="270.20" y="132.30" width="8.65" height="4.33" fill="#e6e600"/><rect x="278.80" y="132.30" width="8.65" height="4.33" fill="#a3d600"/><rect x="287.40" y="132.30" width="21.55" height="4.33" fill="#55c200"/><rect x="308.90" y="132.30" width="8.65" height="4.33" fill="#a3d600"/><rect x="317.50" y="132.30" width="17.25" height="4.33" fill="#55c200"/><rect x="334.70" y="132.30" width="8.65" height="4.33" fill="#11ac00"/><rect x="343.30" y="132.30" width="4.35" height="4.33" fill="#55c200"/><rect x="261.60" y="136.57" width="4.35" height="4.33" fill="#ebb25e"/><rect x="265.90" y="136.57" width="4.35" height="4.33" fill="#e8c033"/><rect x="270.20" y="136.57" width="4.35" height="4.33" fill="#a3d600"/><rect x="274.50" y="136.57" width="8.65" height="4.33" fill="#55c200"/><rect x="283.10" y="136.57" width="12.95" height="4.33" fill="#11ac00"/><rect x="296.00" y="136.57" width="12.95" height="4.33" fill="#55c200"/><rect x="308.90" y="136.57" width="4.35" height="4.33" fill="#a3d600"/><rect x="313.20" y="136.57" width="4.35" height="4.33" fill="#ebb25e"/><rect x="317.50" y="136.57" width="4.35" height="4.33" fill="#55c200"/><rect x="321.80" y="136.57" width="17.25" height="4.33" fill="#11ac00"/><rect x="339.00" y="136.57" width="8.65" height="4.33" fill="#55c200"/><rect x="261.60" y="140.85" width="4.35" height="4.33" fill="#ebb25e"/><rect x="265.90" y="140.85" width="4.35" height="4.33" fill="#e6e600"/><rect x="270.20" y="140.85" width="4.35" height="4.33" fill="#a3d600"/><rect x="274.50" y="140.85" width="4.35" height="4.33" fill="#55c200"/><rect x="278.80" y="140.85" width="34.45" height="4.33" fill="#11ac00"/><rect x="313.20" y="140.85" width="8.65" height="4.33" fill="#55c200"/><rect x="321.80" y="140.85" width="17.25" height="4.33" fill="#11ac00"/><rect x="339.00" y="140.85" width="8.65" height="4.33" fill="#55c200"/><rect x="261.60" y="145.12" width="4.35" height="4.33" fill="#edb285"/><rect x="265.90" y="145.12" width="4.35" height="4.33" fill="#e8c033"/><rect x="270.20" y="145.12" width="8.65" height="4.33" fill="#a3d600"/><rect x="278.80" y="145.12" width="17.25" height="4.33" fill="#55c200"/><rect x="296.00" y="145.12" width="4.35" height="4.33" fill="#a3d600"/><rect x="300.30" y="145.12" width="4.35" height="4.33" fill="#55c200"/><rect x="304.60" y="145.12" width="12.95" height="4.33" fill="#11ac00"/><rect x="317.50" y="145.12" width="25.85" height="4.33" fill="#55c200"/><rect x="261.60" y="149.40" width="4.35" height="4.33" fill="#edb285"/><rect x="265.90" y="149.40" width="4.35" height="4.33" fill="#ebb25e"/><rect x="270.20" y="149.40" width="12.95" height="4.33" fill="#e6e600"/><rect x="283.10" y="149.40" width="4.35" height="4.33" fill="#a3d600"/><rect x="287.40" y="149.40" width="8.65" height="4.33" fill="#e6e600"/><rect x="296.00" y="149.40" width="4.35" height="4.33" fill="#a3d600"/><rect x="300.30" y="149.40" width="4.35" height="4.33" fill="#e6e600"/><rect x="304.60" y="149.40" width="12.95" height="4.33" fill="#a3d600"/><rect x="317.50" y="149.40" width="4.35" height="4.33" fill="#55c200"/><rect x="321.80" y="149.40" width="8.65" height="4.33" fill="#a3d600"/><rect x="330.40" y="149.40" width="4.35" height="4.33" fill="#55c200"/><rect x="334.70" y="149.40" width="8.65" height="4.33" fill="#a3d600"/><rect x="261.60" y="153.68" width="4.35" height="4.33" fill="#ebb25e"/><rect x="265.90" y="153.68" width="4.35" height="4.33" fill="#edb285"/><rect x="270.20" y="153.68" width="4.35" height="4.33" fill="#ebb25e"/><rect x="274.50" y="153.68" width="4.35" height="4.33" fill="#e8c033"/><rect x="278.80" y="153.68" width="12.95" height="4.33" fill="#e6e600"/><rect x="291.70" y="153.68" width="4.35" height="4.33" fill="#e8c033"/><rect x="296.00" y="153.68" width="12.95" height="4.33" fill="#e6e600"/><rect x="308.90" y="153.68" width="4.35" height="4.33" fill="#a3d600"/><rect x="313.20" y="153.68" width="4.35" height="4.33" fill="#e6e600"/><rect x="317.50" y="153.68" width="4.35" height="4.33" fill="#a3d600"/><rect x="321.80" y="153.68" width="4.35" height="4.33" fill="#e6e600"/><rect x="326.10" y="153.68" width="17.25" height="4.33" fill="#a3d600"/><rect x="265.90" y="157.95" width="4.35" height="4.33" fill="#edb285"/><rect x="270.20" y="157.95" width="4.35" height="4.33" fill="#ebb25e"/><rect x="274.50" y="157.95" width="4.35" height="4.33" fill="#edb285"/><rect x="278.80" y="157.95" width="4.35" height="4.33" fill="#e8c033"/><rect x="283.10" y="157.95" width="4.35" height="4.33" fill="#e6e600"/><rect x="287.40" y="157.95" width="4.35" height="4.33" fill="#ebb25e"/><rect x="291.70" y="157.95" width="4.35" height="4.33" fill="#e8c033"/><rect x="296.00" y="157.95" width="8.65" height="4.33" fill="#e6e600"/><rect x="304.60" y="157.95" width="4.35" height="4.33" fill="#e8c033"/><rect x="308.90" y="157.95" width="12.95" height="4.33" fill="#e6e600"/><rect x="321.80" y="157.95" width="4.35" height="4.33" fill="#a3d600"/><rect x="326.10" y="157.95" width="4.35" height="4.33" fill="#e6e600"/><rect x="330.40" y="157.95" width="4.35" height="4.33" fill="#a3d600"/><rect x="334.70" y="157.95" width="8.65" height="4.33" fill="#e6e600"/><rect x="300.30" y="162.23" width="8.65" height="4.33" fill="#edb285"/><rect x="308.90" y="162.23" width="8.65" height="4.33" fill="#ebb25e"/><rect x="317.50" y="162.23" width="4.35" height="4.33" fill="#e8c033"/><rect x="321.80" y="162.23" width="17.25" height="4.33" fill="#e6e600"/><rect x="339.00" y="162.23" width="4.35" height="4.33" fill="#e8c033"/></g>
<rect x="227.60" y="112.20" width="155.00" height="56.50" fill="none" stroke="#3a3a3a" stroke-width="1"/>
<line x1="223.40" y1="119.00" x2="227.60" y2="119.00" stroke="#444" stroke-width="1"/>
<line x1="223.40" y1="133.10" x2="227.60" y2="133.10" stroke="#444" stroke-width="1"/>
<line x1="223.40" y1="147.00" x2="227.60" y2="147.00" stroke="#444" stroke-width="1"/>
<line x1="223.40" y1="160.90" x2="227.60" y2="160.90" stroke="#444" stroke-width="1"/>
<line x1="236.00" y1="168.70" x2="236.00" y2="173.10" stroke="#444" stroke-width="1"/>
<line x1="271.00" y1="168.70" x2="271.00" y2="173.10" stroke="#444" stroke-width="1"/>
<line x1="306.00" y1="168.70" x2="306.00" y2="173.10" stroke="#444" stroke-width="1"/>
<line x1="341.00" y1="168.70" x2="341.00" y2="173.10" stroke="#444" stroke-width="1"/>
<line x1="376.00" y1="168.70" x2="376.00" y2="173.10" stroke="#444" stroke-width="1"/>
<text x="236.00" y="183.90" font-family="Liberation Sans, sans-serif" font-size="7.2" font-weight="normal" text-anchor="middle" fill="#2a2a3a" textLength="22.0" lengthAdjust="spacingAndGlyphs" stroke="#2a2a3a" stroke-width="0.2">228500</text>
<text x="271.00" y="183.90" font-family="Liberation Sans, sans-serif" font-size="7.2" font-weight="normal" text-anchor="middle" fill="#2a2a3a" textLength="22.0" lengthAdjust="spacingAndGlyphs" stroke="#2a2a3a" stroke-width="0.2">229000</text>
<text x="306.00" y="183.90" font-family="Liberation Sans, sans-serif" font-size="7.2" font-weight="normal" text-anchor="middle" fill="#2a2a3a" textLength="22.0" lengthAdjust="spacingAndGlyphs" stroke="#2a2a3a" stroke-width="0.2">229500</text>
<text x="341.00" y="183.90" font-family="Liberation Sans, sans-serif" font-size="7.2" font-weight="normal" text-anchor="middle" fill="#2a2a3a" textLength="22.0" lengthAdjust="spacingAndGlyphs" stroke="#2a2a3a" stroke-width="0.2">230000</text>
<text x="376.00" y="183.90" font-family="Liberation Sans, sans-serif" font-size="7.2" font-weight="normal" text-anchor="middle" fill="#2a2a3a" textLength="22.0" lengthAdjust="spacingAndGlyphs" stroke="#2a2a3a" stroke-width="0.2">230500</text>
<text x="0" y="0" transform="translate(219.10,119.00) rotate(-90)" font-family="Liberation Sans, sans-serif" font-size="7.2" text-anchor="middle" fill="#2a2a3a" stroke="#2a2a3a" stroke-width="0.2" textLength="25.5" lengthAdjust="spacingAndGlyphs">6875000</text>
<text x="0" y="0" transform="translate(219.10,160.90) rotate(-90)" font-family="Liberation Sans, sans-serif" font-size="7.2" text-anchor="middle" fill="#2a2a3a" stroke="#2a2a3a" stroke-width="0.2" textLength="25.5" lengthAdjust="spacingAndGlyphs">6874400</text>
<text x="305.10" y="107.30" font-family="Liberation Sans, sans-serif" font-size="8.5" font-weight="bold" text-anchor="middle" fill="#111" textLength="67.0" lengthAdjust="spacingAndGlyphs" stroke="#111" stroke-width="0.15">Predicted - Year 2</text>
<defs><linearGradient id="g11" x1="0" y1="0" x2="0" y2="1"><stop offset="0.0" stop-color="#00a600"/><stop offset="0.1" stop-color="#24b200"/><stop offset="0.2" stop-color="#4cbf00"/><stop offset="0.3" stop-color="#7acc00"/><stop offset="0.4" stop-color="#add900"/><stop offset="0.5" stop-color="#e6e600"/><stop offset="0.6" stop-color="#e8c32e"/><stop offset="0.7" stop-color="#ebb25e"/><stop offset="0.8" stop-color="#edb48e"/><stop offset="0.9" stop-color="#f0c9c0"/><stop offset="1.0" stop-color="#f2f2f2"/></linearGradient></defs>
<rect x="392.20" y="126.00" width="3.60" height="28.80" fill="url(#g11)" stroke="#4a4a4a" stroke-width="0.9"/>
<line x1="395.80" y1="126.90" x2="398.80" y2="126.90" stroke="#444" stroke-width="0.9"/>
<text x="402.10" y="130.25" font-family="Liberation Sans, sans-serif" font-size="7.2" font-weight="normal" text-anchor="start" fill="#2a2a3a" stroke="#2a2a3a" stroke-width="0.2">2.5</text>
<line x1="395.80" y1="131.30" x2="398.80" y2="131.30" stroke="#444" stroke-width="0.9"/>
<line x1="395.80" y1="135.70" x2="398.80" y2="135.70" stroke="#444" stroke-width="0.9"/>
<text x="402.10" y="139.05" font-family="Liberation Sans, sans-serif" font-size="7.2" font-weight="normal" text-anchor="start" fill="#2a2a3a" stroke="#2a2a3a" stroke-width="0.2">2.3</text>
<line x1="395.80" y1="140.00" x2="398.80" y2="140.00" stroke="#444" stroke-width="0.9"/>
<line x1="395.80" y1="144.30" x2="398.80" y2="144.30" stroke="#444" stroke-width="0.9"/>
<text x="402.10" y="147.65" font-family="Liberation Sans, sans-serif" font-size="7.2" font-weight="normal" text-anchor="start" fill="#2a2a3a" stroke="#2a2a3a" stroke-width="0.2">2.1</text>
<line x1="395.80" y1="148.50" x2="398.80" y2="148.50" stroke="#444" stroke-width="0.9"/>
<line x1="395.80" y1="152.60" x2="398.80" y2="152.60" stroke="#444" stroke-width="0.9"/>
<text x="402.10" y="155.95" font-family="Liberation Sans, sans-serif" font-size="7.2" font-weight="normal" text-anchor="start" fill="#2a2a3a" stroke="#2a2a3a" stroke-width="0.2">1.9</text>
<defs><filter id="b0_183" x="-10%" y="-10%" width="120%" height="120%"><feGaussianBlur stdDeviation="1.0"/></filter></defs><g filter="url(#b0_183)"><rect x="93.20" y="206.90" width="4.35" height="4.33" fill="#edb285"/><rect x="97.50" y="206.90" width="12.95" height="4.33" fill="#ebb25e"/><rect x="110.40" y="206.90" width="4.35" height="4.33" fill="#edb285"/><rect x="114.70" y="206.90" width="8.65" height="4.33" fill="#f1e2e0"/><rect x="123.30" y="206.90" width="12.95" height="4.33" fill="#f2f2f2"/><rect x="136.20" y="206.90" width="4.35" height="4.33" fill="#f1e2e0"/><rect x="84.60" y="211.18" width="4.35" height="4.33" fill="#ebb25e"/><rect x="88.90" y="211.18" width="4.35" height="4.33" fill="#edb285"/><rect x="93.20" y="211.18" width="4.35" height="4.33" fill="#e8c033"/><rect x="97.50" y="211.18" width="17.25" height="4.33" fill="#ebb25e"/><rect x="114.70" y="211.18" width="8.65" height="4.33" fill="#edb285"/><rect x="123.30" y="211.18" width="4.35" height="4.33" fill="#f1e2e0"/><rect x="127.60" y="211.18" width="4.35" height="4.33" fill="#f2f2f2"/><rect x="131.90" y="211.18" width="4.35" height="4.33" fill="#efc4b6"/><rect x="136.20" y="211.18" width="4.35" height="4.33" fill="#ebb25e"/><rect x="76.00" y="215.45" width="8.65" height="4.33" fill="#edb285"/><rect x="84.60" y="215.45" width="4.35" height="4.33" fill="#ebb25e"/><rect x="88.90" y="215.45" width="4.35" height="4.33" fill="#e6e600"/><rect x="93.20" y="215.45" width="4.35" height="4.33" fill="#a3d600"/><rect x="97.50" y="215.45" width="4.35" height="4.33" fill="#e8c033"/><rect x="101.80" y="215.45" width="21.55" height="4.33" fill="#ebb25e"/><rect x="123.30" y="215.45" width="4.35" height="4.33" fill="#edb285"/><rect x="127.60" y="215.45" width="4.35" height="4.33" fill="#e6e600"/><rect x="131.90" y="215.45" width="4.35" height="4.33" fill="#a3d600"/><rect x="136.20" y="215.45" width="4.35" height="4.33" fill="#ebb25e"/><rect x="63.10" y="219.72" width="12.95" height="4.33" fill="#edb285"/><rect x="76.00" y="219.72" width="8.65" height="4.33" fill="#ebb25e"/><rect x="84.60" y="219.72" width="4.35" height="4.33" fill="#e6e600"/><rect x="88.90" y="219.72" width="8.65" height="4.33" fill="#a3d600"/><rect x="97.50" y="219.72" width="4.35" height="4.33" fill="#e6e600"/><rect x="101.80" y="219.72" width="4.35" height="4.33" fill="#e8c033"/><rect x="106.10" y="219.72" width="4.35" height="4.33" fill="#a3d600"/><rect x="110.40" y="219.72" width="4.35" height="4.33" fill="#e6e600"/><rect x="114.70" y="219.72" width="4.35" height="4.33" fill="#e8c033"/><rect x="119.00" y="219.72" width="8.65" height="4.33" fill="#e6e600"/><rect x="127.60" y="219.72" width="4.35" height="4.33" fill="#a3d600"/><rect x="131.90" y="219.72" width="4.35" height="4.33" fill="#55c200"/><rect x="136.20" y="219.72" width="4.35" height="4.33" fill="#ebb25e"/><rect x="54.50" y="224.00" width="4.35" height="4.33" fill="#edb285"/><rect x="58.80" y="224.00" width="4.35" height="4.33" fill="#efc4b6"/><rect x="63.10" y="224.00" width="8.65" height="4.33" fill="#e6e600"/><rect x="71.70" y="224.00" width="4.35" height="4.33" fill="#edb285"/><rect x="76.00" y="224.00" width="8.65" height="4.33" fill="#e6e600"/><rect x="84.60" y="224.00" width="4.35" height="4.33" fill="#a3d600"/><rect x="88.90" y="224.00" width="4.35" height="4.33" fill="#e6e600"/><rect x="93.20" y="224.00" width="4.35" height="4.33" fill="#a3d600"/><rect x="97.50" y="224.00" width="4.35" height="4.33" fill="#e6e600"/><rect x="101.80" y="224.00" width="4.35" height="4.33" fill="#e8c033"/><rect x="106.10" y="224.00" width="4.35" height="4.33" fill="#e6e600"/><rect x="110.40" y="224.00" width="4.35" height="4.33" fill="#55c200"/><rect x="114.70" y="224.00" width="4.35" height="4.33" fill="#e8c033"/><rect x="119.00" y="224.00" width="4.35" height="4.33" fill="#e6e600"/><rect x="123.30" y="224.00" width="4.35" height="4.33" fill="#a3d600"/><rect x="127.60" y="224.00" width="4.35" height="4.33" fill="#55c200"/><rect x="131.90" y="224.00" width="4.35" height="4.33" fill="#e6e600"/><rect x="136.20" y="224.00" width="4.35" height="4.33" fill="#ebb25e"/><rect x="54.50" y="228.28" width="4.35" height="4.33" fill="#ebb25e"/><rect x="58.80" y="228.28" width="4.35" height="4.33" fill="#f1e2e0"/><rect x="63.10" y="228.28" width="4.35" height="4.33" fill="#a3d600"/><rect x="67.40" y="228.28" width="4.35" height="4.33" fill="#55c200"/><rect x="71.70" y="228.28" width="4.35" height="4.33" fill="#edb285"/><rect x="76.00" y="228.28" width="8.65" height="4.33" fill="#e6e600"/><rect x="84.60" y="228.28" width="8.65" height="4.33" fill="#a3d600"/><rect x="93.20" y="228.28" width="8.65" height="4.33" fill="#55c200"/><rect x="101.80" y="228.28" width="4.35" height="4.33" fill="#e8c033"/><rect x="106.10" y="228.28" width="4.35" height="4.33" fill="#a3d600"/><rect x="110.40" y="228.28" width="8.65" height="4.33" fill="#e6e600"/><rect x="119.00" y="228.28" width="4.35" height="4.33" fill="#a3d600"/><rect x="123.30" y="228.28" width="4.35" height="4.33" fill="#e6e600"/><rect x="127.60" y="228.28" width="4.35" height="4.33" fill="#a3d600"/><rect x="131.90" y="228.28" width="4.35" height="4.33" fill="#e6e600"/><rect x="136.20" y="228.28" width="4.35" height="4.33" fill="#ebb25e"/><rect x="54.50" y="232.55" width="4.35" height="4.33" fill="#efc4b6"/><rect x="58.80" y="232.55" width="4.35" height="4.33" fill="#e8c033"/><rect x="63.10" y="232.55" width="4.35" height="4.33" fill="#e6e600"/><rect x="67.40" y="232.55" width="8.65" height="4.33" fill="#55c200"/><rect x="76.00" y="232.55" width="17.25" height="4.33" fill="#a3d600"/><rect x="93.20" y="232.55" width="4.35" height="4.33" fill="#55c200"/><rect x="97.50" y="232.55" width="4.35" height="4.33" fill="#a3d600"/><rect x="101.80" y="232.55" width="4.35" height="4.33" fill="#e6e600"/><rect x="106.10" y="232.55" width="4.35" height="4.33" fill="#55c200"/><rect x="110.40" y="232.55" width="4.35" height="4.33" fill="#a3d600"/><rect x="114.70" y="232.55" width="4.35" height="4.33" fill="#e8c033"/><rect x="119.00" y="232.55" width="4.35" height="4.33" fill="#ebb25e"/><rect x="123.30" y="232.55" width="4.35" height="4.33" fill="#e8c033"/><rect x="127.60" y="232.55" width="4.35" height="4.33" fill="#e6e600"/><rect x="131.90" y="232.55" width="4.35" height="4.33" fill="#e8c033"/><rect x="136.20" y="232.55" width="4.35" height="4.33" fill="#ebb25e"/><rect x="54.50" y="236.83" width="4.35" height="4.33" fill="#ebb25e"/><rect x="58.80" y="236.83" width="4.35" height="4.33" fill="#e8c033"/><rect x="63.10" y="236.83" width="4.35" height="4.33" fill="#a3d600"/><rect x="67.40" y="236.83" width="4.35" height="4.33" fill="#e6e600"/><rect x="71.70" y="236.83" width="4.35" height="4.33" fill="#a3d600"/><rect x="76.00" y="236.83" width="4.35" height="4.33" fill="#e6e600"/><rect x="80.30" y="236.83" width="4.35" height="4.33" fill="#a3d600"/><rect x="84.60" y="236.83" width="4.35" height="4.33" fill="#e6e600"/><rect x="88.90" y="236.83" width="4.35" height="4.33" fill="#a3d600"/><rect x="93.20" y="236.83" width="4.35" height="4.33" fill="#55c200"/><rect x="97.50" y="236.83" width="8.65" height="4.33" fill="#e6e600"/><rect x="106.10" y="236.83" width="4.35" height="4.33" fill="#55c200"/><rect x="110.40" y="236.83" width="4.35" height="4.33" fill="#a3d600"/><rect x="114.70" y="236.83" width="8.65" height="4.33" fill="#ebb25e"/><rect x="123.30" y="236.83" width="4.35" height="4.33" fill="#e6e600"/><rect x="127.60" y="236.83" width="4.35" height="4.33" fill="#a3d600"/><rect x="131.90" y="236.83" width="4.35" height="4.33" fill="#e6e600"/><rect x="54.50" y="241.10" width="4.35" height="4.33" fill="#e6e600"/><rect x="58.80" y="241.10" width="4.35" height="4.33" fill="#ebb25e"/><rect x="63.10" y="241.10" width="4.35" height="4.33" fill="#e6e600"/><rect x="67.40" y="241.10" width="4.35" height="4.33" fill="#e8c033"/><rect x="71.70" y="241.10" width="4.35" height="4.33" fill="#a3d600"/><rect x="76.00" y="241.10" width="12.95" height="4.33" fill="#e6e600"/><rect x="88.90" y="241.10" width="4.35" height="4.33" fill="#e8c033"/><rect x="93.20" y="241.10" width="4.35" height="4.33" fill="#e6e600"/><rect x="97.50" y="241.10" width="4.35" height="4.33" fill="#edb285"/><rect x="101.80" y="241.10" width="4.35" height="4.33" fill="#e6e600"/><rect x="106.10" y="241.10" width="4.35" height="4.33" fill="#e8c033"/><rect x="110.40" y="241.10" width="4.35" height="4.33" fill="#a3d600"/><rect x="114.70" y="241.10" width="4.35" height="4.33" fill="#e8c033"/><rect x="119.00" y="241.10" width="4.35" height="4.33" fill="#55c200"/><rect x="123.30" y="241.10" width="4.35" height="4.33" fill="#e8c033"/><rect x="127.60" y="241.10" width="4.35" height="4.33" fill="#55c200"/><rect x="131.90" y="241.10" width="4.35" height="4.33" fill="#e6e600"/><rect x="54.50" y="245.38" width="8.65" height="4.33" fill="#ebb25e"/><rect x="63.10" y="245.38" width="4.35" height="4.33" fill="#a3d600"/><rect x="67.40" y="245.38" width="4.35" height="4.33" fill="#e8c033"/><rect x="71.70" y="245.38" width="4.35" height="4.33" fill="#55c200"/><rect x="76.00" y="245.38" width="4.35" height="4.33" fill="#e6e600"/><rect x="80.30" y="245.38" width="4.35" height="4.33" fill="#e8c033"/><rect x="84.60" y="245.38" width="4.35" height="4.33" fill="#e6e600"/><rect x="88.90" y="245.38" width="4.35" height="4.33" fill="#ebb25e"/><rect x="93.20" y="245.38" width="4.35" height="4.33" fill="#e8c033"/><rect x="97.50" y="245.38" width="4.35" height="4.33" fill="#ebb25e"/><rect x="101.80" y="245.38" width="4.35" height="4.33" fill="#e8c033"/><rect x="106.10" y="245.38" width="17.25" height="4.33" fill="#e6e600"/><rect x="123.30" y="245.38" width="4.35" height="4.33" fill="#e8c033"/><rect x="127.60" y="245.38" width="4.35" height="4.33" fill="#a3d600"/><rect x="131.90" y="245.38" width="4.35" height="4.33" fill="#e6e600"/><rect x="63.10" y="249.65" width="4.35" height="4.33" fill="#ebb25e"/><rect x="67.40" y="249.65" width="4.35" height="4.33" fill="#e8c033"/><rect x="71.70" y="249.65" width="4.35" height="4.33" fill="#55c200"/><rect x="76.00" y="249.65" width="4.35" height="4.33" fill="#ebb25e"/><rect x="80.30" y="249.65" width="4.35" height="4.33" fill="#e8c033"/><rect x="84.60" y="249.65" width="4.35" height="4.33" fill="#e6e600"/><rect x="88.90" y="249.65" width="25.85" height="4.33" fill="#ebb25e"/><rect x="114.70" y="249.65" width="8.65" height="4.33" fill="#e6e600"/><rect x="123.30" y="249.65" width="4.35" height="4.33" fill="#e8c033"/><rect x="127.60" y="249.65" width="4.35" height="4.33" fill="#e6e600"/><rect x="131.90" y="249.65" width="4.35" height="4.33" fill="#a3d600"/><rect x="88.90" y="253.93" width="21.55" height="4.33" fill="#edb285"/><rect x="110.40" y="253.93" width="4.35" height="4.33" fill="#ebb25e"/><rect x="114.70" y="253.93" width="4.35" height="4.33" fill="#e8c033"/><rect x="119.00" y="253.93" width="12.95" height="4.33" fill="#e6e600"/><rect x="131.90" y="253.93" width="4.35" height="4.33" fill="#a3d600"/></g>
<rect x="20.50" y="203.90" width="155.00" height="56.50" fill="none" stroke="#3a3a3a" stroke-width="1"/>
<line x1="16.30" y1="210.70" x2="20.50" y2="210.70" stroke="#444" stroke-width="1"/>
<line x1="16.30" y1="224.80" x2="20.50" y2="224.80" stroke="#444" stroke-width="1"/>
<line x1="16.30" y1="238.70" x2="20.50" y2="238.70" stroke="#444" stroke-width="1"/>
<line x1="16.30" y1="252.60" x2="20.50" y2="252.60" stroke="#444" stroke-width="1"/>
<line x1="28.90" y1="260.40" x2="28.90" y2="264.80" stroke="#444" stroke-width="1"/>
<line x1="63.90" y1="260.40" x2="63.90" y2="264.80" stroke="#444" stroke-width="1"/>
<line x1="98.90" y1="260.40" x2="98.90" y2="264.80" stroke="#444" stroke-width="1"/>
<line x1="133.90" y1="260.40" x2="133.90" y2="264.80" stroke="#444" stroke-width="1"/>
<line x1="168.90" y1="260.40" x2="168.90" y2="264.80" stroke="#444" stroke-width="1"/>
<text x="28.90" y="275.60" font-family="Liberation Sans, sans-serif" font-size="7.2" font-weight="normal" text-anchor="middle" fill="#2a2a3a" textLength="22.0" lengthAdjust="spacingAndGlyphs" stroke="#2a2a3a" stroke-width="0.2">228500</text>
<text x="63.90" y="275.60" font-family="Liberation Sans, sans-serif" font-size="7.2" font-weight="normal" text-anchor="middle" fill="#2a2a3a" textLength="22.0" lengthAdjust="spacingAndGlyphs" stroke="#2a2a3a" stroke-width="0.2">229000</text>
<text x="98.90" y="275.60" font-family="Liberation Sans, sans-serif" font-size="7.2" font-weight="normal" text-anchor="middle" fill="#2a2a3a" textLength="22.0" lengthAdjust="spacingAndGlyphs" stroke="#2a2a3a" stroke-width="0.2">229500</text>
<text x="133.90" y="275.60" font-family="Liberation Sans, sans-serif" font-size="7.2" font-weight="normal" text-anchor="middle" fill="#2a2a3a" textLength="22.0" lengthAdjust="spacingAndGlyphs" stroke="#2a2a3a" stroke-width="0.2">230000</text>
<text x="168.90" y="275.60" font-family="Liberation Sans, sans-serif" font-size="7.2" font-weight="normal" text-anchor="middle" fill="#2a2a3a" textLength="22.0" lengthAdjust="spacingAndGlyphs" stroke="#2a2a3a" stroke-width="0.2">230500</text>
<text x="0" y="0" transform="translate(12.00,210.70) rotate(-90)" font-family="Liberation Sans, sans-serif" font-size="7.2" text-anchor="middle" fill="#2a2a3a" stroke="#2a2a3a" stroke-width="0.2" textLength="25.5" lengthAdjust="spacingAndGlyphs">6875000</text>
<text x="0" y="0" transform="translate(12.00,252.60) rotate(-90)" font-family="Liberation Sans, sans-serif" font-size="7.2" text-anchor="middle" fill="#2a2a3a" stroke="#2a2a3a" stroke-width="0.2" textLength="25.5" lengthAdjust="spacingAndGlyphs">6874400</text>
<text x="98.00" y="199.00" font-family="Liberation Sans, sans-serif" font-size="8.5" font-weight="bold" text-anchor="middle" fill="#111" textLength="67.44" lengthAdjust="spacingAndGlyphs" stroke="#111" stroke-width="0.15">Observed - Year 3</text>
<defs><linearGradient id="g20" x1="0" y1="0" x2="0" y2="1"><stop offset="0.0" stop-color="#00a600"/><stop offset="0.1" stop-color="#24b200"/><stop offset="0.2" stop-color="#4cbf00"/><stop offset="0.3" stop-color="#7acc00"/><stop offset="0.4" stop-color="#add900"/><stop offset="0.5" stop-color="#e6e600"/><stop offset="0.6" stop-color="#e8c32e"/><stop offset="0.7" stop-color="#ebb25e"/><stop offset="0.8" stop-color="#edb48e"/><stop offset="0.9" stop-color="#f0c9c0"/><stop offset="1.0" stop-color="#f2f2f2"/></linearGradient></defs>
<rect x="185.30" y="217.70" width="3.60" height="28.70" fill="url(#g20)" stroke="#4a4a4a" stroke-width="0.9"/>
<line x1="188.90" y1="223.30" x2="191.90" y2="223.30" stroke="#444" stroke-width="0.9"/>
<text x="194.50" y="225.89" font-family="Liberation Sans, sans-serif" font-size="7.2" font-weight="normal" text-anchor="start" fill="#2a2a3a" stroke="#2a2a3a" stroke-width="0.2">3.0</text>
<line x1="188.90" y1="232.40" x2="191.90" y2="232.40" stroke="#444" stroke-width="0.9"/>
<text x="194.50" y="234.99" font-family="Liberation Sans, sans-serif" font-size="7.2" font-weight="normal" text-anchor="start" fill="#2a2a3a" stroke="#2a2a3a" stroke-width="0.2">2.5</text>
<line x1="188.90" y1="241.20" x2="191.90" y2="241.20" stroke="#444" stroke-width="0.9"/>
<text x="194.50" y="243.79" font-family="Liberation Sans, sans-serif" font-size="7.2" font-weight="normal" text-anchor="start" fill="#2a2a3a" stroke="#2a2a3a" stroke-width="0.2">2.0</text>
<defs><filter id="b207_183" x="-10%" y="-10%" width="120%" height="120%"><feGaussianBlur stdDeviation="1.0"/></filter></defs><g filter="url(#b207_183)"><rect x="300.30" y="206.90" width="4.35" height="4.33" fill="#e6e600"/><rect x="304.60" y="206.90" width="4.35" height="4.33" fill="#a3d600"/><rect x="308.90" y="206.90" width="4.35" height="4.33" fill="#e6e600"/><rect x="313.20" y="206.90" width="4.35" height="4.33" fill="#e8c033"/><rect x="317.50" y="206.90" width="4.35" height="4.33" fill="#ebb25e"/><rect x="321.80" y="206.90" width="4.35" height="4.33" fill="#edb285"/><rect x="326.10" y="206.90" width="4.35" height="4.33" fill="#efc4b6"/><rect x="330.40" y="206.90" width="4.35" height="4.33" fill="#ebb25e"/><rect x="334.70" y="206.90" width="4.35" height="4.33" fill="#e8c033"/><rect x="339.00" y="206.90" width="8.65" height="4.33" fill="#ebb25e"/><rect x="291.70" y="211.18" width="4.35" height="4.33" fill="#e8c033"/><rect x="296.00" y="211.18" width="4.35" height="4.33" fill="#a3d600"/><rect x="300.30" y="211.18" width="4.35" height="4.33" fill="#55c200"/><rect x="304.60" y="211.18" width="4.35" height="4.33" fill="#a3d600"/><rect x="308.90" y="211.18" width="8.65" height="4.33" fill="#e6e600"/><rect x="317.50" y="211.18" width="8.65" height="4.33" fill="#a3d600"/><rect x="326.10" y="211.18" width="4.35" height="4.33" fill="#e6e600"/><rect x="330.40" y="211.18" width="12.95" height="4.33" fill="#a3d600"/><rect x="343.30" y="211.18" width="4.35" height="4.33" fill="#e8c033"/><rect x="287.40" y="215.45" width="4.35" height="4.33" fill="#e8c033"/><rect x="291.70" y="215.45" width="4.35" height="4.33" fill="#a3d600"/><rect x="296.00" y="215.45" width="4.35" height="4.33" fill="#55c200"/><rect x="300.30" y="215.45" width="4.35" height="4.33" fill="#11ac00"/><rect x="304.60" y="215.45" width="8.65" height="4.33" fill="#55c200"/><rect x="313.20" y="215.45" width="4.35" height="4.33" fill="#a3d600"/><rect x="317.50" y="215.45" width="25.85" height="4.33" fill="#55c200"/><rect x="343.30" y="215.45" width="4.35" height="4.33" fill="#a3d600"/><rect x="270.20" y="219.72" width="8.65" height="4.33" fill="#e8c033"/><rect x="278.80" y="219.72" width="8.65" height="4.33" fill="#55c200"/><rect x="287.40" y="219.72" width="12.95" height="4.33" fill="#11ac00"/><rect x="300.30" y="219.72" width="4.35" height="4.33" fill="#55c200"/><rect x="304.60" y="219.72" width="4.35" height="4.33" fill="#11ac00"/><rect x="308.90" y="219.72" width="17.25" height="4.33" fill="#55c200"/><rect x="326.10" y="219.72" width="4.35" height="4.33" fill="#11ac00"/><rect x="330.40" y="219.72" width="4.35" height="4.33" fill="#55c200"/><rect x="334.70" y="219.72" width="4.35" height="4.33" fill="#11ac00"/><rect x="339.00" y="219.72" width="8.65" height="4.33" fill="#55c200"/><rect x="265.90" y="224.00" width="4.35" height="4.33" fill="#e8c033"/><rect x="270.20" y="224.00" width="4.35" height="4.33" fill="#a3d600"/><rect x="274.50" y="224.00" width="4.35" height="4.33" fill="#55c200"/><rect x="278.80" y="224.00" width="17.25" height="4.33" fill="#11ac00"/><rect x="296.00" y="224.00" width="4.35" height="4.33" fill="#55c200"/><rect x="300.30" y="224.00" width="12.95" height="4.33" fill="#11ac00"/><rect x="313.20" y="224.00" width="4.35" height="4.33" fill="#55c200"/><rect x="317.50" y="224.00" width="4.35" height="4.33" fill="#11ac00"/><rect x="321.80" y="224.00" width="4.35" height="4.33" fill="#55c200"/><rect x="326.10" y="224.00" width="8.65" height="4.33" fill="#11ac00"/><rect x="334.70" y="224.00" width="4.35" height="4.33" fill="#55c200"/><rect x="339.00" y="224.00" width="4.35" height="4.33" fill="#11ac00"/><rect x="343.30" y="224.00" width="4.35" height="4.33" fill="#55c200"/><rect x="261.60" y="228.28" width="4.35" height="4.33" fill="#e8c033"/><rect x="265.90" y="228.28" width="4.35" height="4.33" fill="#e6e600"/><rect x="270.20" y="228.28" width="4.35" height="4.33" fill="#55c200"/><rect x="274.50" y="228.28" width="21.55" height="4.33" fill="#11ac00"/><rect x="296.00" y="228.28" width="4.35" height="4.33" fill="#55c200"/><rect x="300.30" y="228.28" width="4.35" height="4.33" fill="#11ac00"/><rect x="304.60" y="228.28" width="4.35" height="4.33" fill="#55c200"/><rect x="308.90" y="228.28" width="4.35" height="4.33" fill="#11ac00"/><rect x="313.20" y="228.28" width="8.65" height="4.33" fill="#55c200"/><rect x="321.80" y="228.28" width="4.35" height="4.33" fill="#11ac00"/><rect x="326.10" y="228.28" width="4.35" height="4.33" fill="#55c200"/><rect x="330.40" y="228.28" width="4.35" height="4.33" fill="#11ac00"/><rect x="334.70" y="228.28" width="4.35" height="4.33" fill="#55c200"/><rect x="339.00" y="228.28" width="4.35" height="4.33" fill="#11ac00"/><rect x="343.30" y="228.28" width="4.35" height="4.33" fill="#55c200"/><rect x="261.60" y="232.55" width="4.35" height="4.33" fill="#e8c033"/><rect x="265.90" y="232.55" width="4.35" height="4.33" fill="#a3d600"/><rect x="270.20" y="232.55" width="4.35" height="4.33" fill="#55c200"/><rect x="274.50" y="232.55" width="21.55" height="4.33" fill="#11ac00"/><rect x="296.00" y="232.55" width="4.35" height="4.33" fill="#55c200"/><rect x="300.30" y="232.55" width="8.65" height="4.33" fill="#11ac00"/><rect x="308.90" y="232.55" width="4.35" height="4.33" fill="#55c200"/><rect x="313.20" y="232.55" width="4.35" height="4.33" fill="#11ac00"/><rect x="317.50" y="232.55" width="4.35" height="4.33" fill="#55c200"/><rect x="321.80" y="232.55" width="4.35" height="4.33" fill="#11ac00"/><rect x="326.10" y="232.55" width="17.25" height="4.33" fill="#55c200"/><rect x="343.30" y="232.55" width="4.35" height="4.33" fill="#e6e600"/><rect x="261.60" y="236.83" width="4.35" height="4.33" fill="#e6e600"/><rect x="265.90" y="236.83" width="4.35" height="4.33" fill="#a3d600"/><rect x="270.20" y="236.83" width="4.35" height="4.33" fill="#55c200"/><rect x="274.50" y="236.83" width="21.55" height="4.33" fill="#11ac00"/><rect x="296.00" y="236.83" width="4.35" height="4.33" fill="#55c200"/><rect x="300.30" y="236.83" width="4.35" height="4.33" fill="#11ac00"/><rect x="304.60" y="236.83" width="8.65" height="4.33" fill="#55c200"/><rect x="313.20" y="236.83" width="4.35" height="4.33" fill="#a3d600"/><rect x="317.50" y="236.83" width="4.35" height="4.33" fill="#55c200"/><rect x="321.80" y="236.83" width="8.65" height="4.33" fill="#11ac00"/><rect x="330.40" y="236.83" width="4.35" height="4.33" fill="#55c200"/><rect x="334.70" y="236.83" width="4.35" height="4.33" fill="#11ac00"/><rect x="339.00" y="236.83" width="4.35" height="4.33" fill="#55c200"/><rect x="261.60" y="241.10" width="4.35" height="4.33" fill="#e8c033"/><rect x="265.90" y="241.10" width="4.35" height="4.33" fill="#a3d600"/><rect x="270.20" y="241.10" width="4.35" height="4.33" fill="#55c200"/><rect x="274.50" y="241.10" width="12.95" height="4.33" fill="#11ac00"/><rect x="287.40" y="241.10" width="4.35" height="4.33" fill="#55c200"/><rect x="291.70" y="241.10" width="4.35" height="4.33" fill="#11ac00"/><rect x="296.00" y="241.10" width="4.35" height="4.33" fill="#55c200"/><rect x="300.30" y="241.10" width="4.35" height="4.33" fill="#11ac00"/><rect x="304.60" y="241.10" width="4.35" height="4.33" fill="#55c200"/><rect x="308.90" y="241.10" width="4.35" height="4.33" fill="#a3d600"/><rect x="313.20" y="241.10" width="4.35" height="4.33" fill="#55c200"/><rect x="317.50" y="241.10" width="4.35" height="4.33" fill="#11ac00"/><rect x="321.80" y="241.10" width="8.65" height="4.33" fill="#55c200"/><rect x="330.40" y="241.10" width="4.35" height="4.33" fill="#11ac00"/><rect x="334.70" y="241.10" width="8.65" height="4.33" fill="#55c200"/><rect x="261.60" y="245.38" width="4.35" height="4.33" fill="#e8c033"/><rect x="265.90" y="245.38" width="4.35" height="4.33" fill="#a3d600"/><rect x="270.20" y="245.38" width="4.35" height="4.33" fill="#55c200"/><rect x="274.50" y="245.38" width="8.65" height="4.33" fill="#11ac00"/><rect x="283.10" y="245.38" width="4.35" height="4.33" fill="#55c200"/><rect x="287.40" y="245.38" width="4.35" height="4.33" fill="#11ac00"/><rect x="291.70" y="245.38" width="4.35" height="4.33" fill="#55c200"/><rect x="296.00" y="245.38" width="4.35" height="4.33" fill="#11ac00"/><rect x="300.30" y="245.38" width="8.65" height="4.33" fill="#55c200"/><rect x="308.90" y="245.38" width="4.35" height="4.33" fill="#a3d600"/><rect x="313.20" y="245.38" width="8.65" height="4.33" fill="#55c200"/><rect x="321.80" y="245.38" width="4.35" height="4.33" fill="#11ac00"/><rect x="326.10" y="245.38" width="4.35" height="4.33" fill="#55c200"/><rect x="330.40" y="245.38" width="4.35" height="4.33" fill="#11ac00"/><rect x="334.70" y="245.38" width="8.65" height="4.33" fill="#55c200"/><rect x="270.20" y="249.65" width="17.25" height="4.33" fill="#55c200"/><rect x="287.40" y="249.65" width="12.95" height="4.33" fill="#e6e600"/><rect x="300.30" y="249.65" width="21.55" height="4.33" fill="#a3d600"/><rect x="321.80" y="249.65" width="17.25" height="4.33" fill="#55c200"/><rect x="339.00" y="249.65" width="4.35" height="4.33" fill="#a3d600"/><rect x="287.40" y="253.93" width="12.95" height="4.33" fill="#ebb25e"/><rect x="300.30" y="253.93" width="17.25" height="4.33" fill="#e8c033"/><rect x="317.50" y="253.93" width="4.35" height="4.33" fill="#e6e600"/><rect x="321.80" y="253.93" width="4.35" height="4.33" fill="#a3d600"/><rect x="326.10" y="253.93" width="4.35" height="4.33" fill="#55c200"/><rect x="330.40" y="253.93" width="8.65" height="4.33" fill="#a3d600"/><rect x="339.00" y="253.93" width="4.35" height="4.33" fill="#e6e600"/></g>
<rect x="227.60" y="203.90" width="155.00" height="56.50" fill="none" stroke="#3a3a3a" stroke-width="1"/>
<line x1="223.40" y1="210.70" x2="227.60" y2="210.70" stroke="#444" stroke-width="1"/>
<line x1="223.40" y1="224.80" x2="227.60" y2="224.80" stroke="#444" stroke-width="1"/>
<line x1="223.40" y1="238.70" x2="227.60" y2="238.70" stroke="#444" stroke-width="1"/>
<line x1="223.40" y1="252.60" x2="227.60" y2="252.60" stroke="#444" stroke-width="1"/>
<line x1="236.00" y1="260.40" x2="236.00" y2="264.80" stroke="#444" stroke-width="1"/>
<line x1="271.00" y1="260.40" x2="271.00" y2="264.80" stroke="#444" stroke-width="1"/>
<line x1="306.00" y1="260.40" x2="306.00" y2="264.80" stroke="#444" stroke-width="1"/>
<line x1="341.00" y1="260.40" x2="341.00" y2="264.80" stroke="#444" stroke-width="1"/>
<line x1="376.00" y1="260.40" x2="376.00" y2="264.80" stroke="#444" stroke-width="1"/>
<text x="236.00" y="275.60" font-family="Liberation Sans, sans-serif" font-size="7.2" font-weight="normal" text-anchor="middle" fill="#2a2a3a" textLength="22.0" lengthAdjust="spacingAndGlyphs" stroke="#2a2a3a" stroke-width="0.2">228500</text>
<text x="271.00" y="275.60" font-family="Liberation Sans, sans-serif" font-size="7.2" font-weight="normal" text-anchor="middle" fill="#2a2a3a" textLength="22.0" lengthAdjust="spacingAndGlyphs" stroke="#2a2a3a" stroke-width="0.2">229000</text>
<text x="306.00" y="275.60" font-family="Liberation Sans, sans-serif" font-size="7.2" font-weight="normal" text-anchor="middle" fill="#2a2a3a" textLength="22.0" lengthAdjust="spacingAndGlyphs" stroke="#2a2a3a" stroke-width="0.2">229500</text>
<text x="341.00" y="275.60" font-family="Liberation Sans, sans-serif" font-size="7.2" font-weight="normal" text-anchor="middle" fill="#2a2a3a" textLength="22.0" lengthAdjust="spacingAndGlyphs" stroke="#2a2a3a" stroke-width="0.2">230000</text>
<text x="376.00" y="275.60" font-family="Liberation Sans, sans-serif" font-size="7.2" font-weight="normal" text-anchor="middle" fill="#2a2a3a" textLength="22.0" lengthAdjust="spacingAndGlyphs" stroke="#2a2a3a" stroke-width="0.2">230500</text>
<text x="0" y="0" transform="translate(219.10,210.70) rotate(-90)" font-family="Liberation Sans, sans-serif" font-size="7.2" text-anchor="middle" fill="#2a2a3a" stroke="#2a2a3a" stroke-width="0.2" textLength="25.5" lengthAdjust="spacingAndGlyphs">6875000</text>
<text x="0" y="0" transform="translate(219.10,252.60) rotate(-90)" font-family="Liberation Sans, sans-serif" font-size="7.2" text-anchor="middle" fill="#2a2a3a" stroke="#2a2a3a" stroke-width="0.2" textLength="25.5" lengthAdjust="spacingAndGlyphs">6874400</text>
<text x="305.10" y="199.00" font-family="Liberation Sans, sans-serif" font-size="8.5" font-weight="bold" text-anchor="middle" fill="#111" textLength="64.77" lengthAdjust="spacingAndGlyphs" stroke="#111" stroke-width="0.15">Predicted- Year 3</text>
<defs><linearGradient id="g21" x1="0" y1="0" x2="0" y2="1"><stop offset="0.0" stop-color="#00a600"/><stop offset="0.1" stop-color="#24b200"/><stop offset="0.2" stop-color="#4cbf00"/><stop offset="0.3" stop-color="#7acc00"/><stop offset="0.4" stop-color="#add900"/><stop offset="0.5" stop-color="#e6e600"/><stop offset="0.6" stop-color="#e8c32e"/><stop offset="0.7" stop-color="#ebb25e"/><stop offset="0.8" stop-color="#edb48e"/><stop offset="0.9" stop-color="#f0c9c0"/><stop offset="1.0" stop-color="#f2f2f2"/></linearGradient></defs>
<rect x="392.20" y="218.30" width="3.60" height="28.30" fill="url(#g21)" stroke="#4a4a4a" stroke-width="0.9"/>
<line x1="395.80" y1="222.40" x2="398.80" y2="222.40" stroke="#444" stroke-width="0.9"/>
<text x="402.10" y="225.75" font-family="Liberation Sans, sans-serif" font-size="7.2" font-weight="normal" text-anchor="start" fill="#2a2a3a" stroke="#2a2a3a" stroke-width="0.2">2.3</text>
<line x1="395.80" y1="227.30" x2="398.80" y2="227.30" stroke="#444" stroke-width="0.9"/>
<line x1="395.80" y1="232.30" x2="398.80" y2="232.30" stroke="#444" stroke-width="0.9"/>
<text x="402.10" y="235.65" font-family="Liberation Sans, sans-serif" font-size="7.2" font-weight="normal" text-anchor="start" fill="#2a2a3a" stroke="#2a2a3a" stroke-width="0.2">2.1</text>
<line x1="395.80" y1="237.20" x2="398.80" y2="237.20" stroke="#444" stroke-width="0.9"/>
<line x1="395.80" y1="242.10" x2="398.80" y2="242.10" stroke="#444" stroke-width="0.9"/>
<text x="402.10" y="245.45" font-family="Liberation Sans, sans-serif" font-size="7.2" font-weight="normal" text-anchor="start" fill="#2a2a3a" stroke="#2a2a3a" stroke-width="0.2">1.9</text>
<defs><filter id="b0_325" x="-10%" y="-10%" width="120%" height="120%"><feGaussianBlur stdDeviation="1.0"/></filter></defs><g filter="url(#b0_325)"><rect x="93.20" y="349.30" width="8.65" height="4.33" fill="#edb285"/><rect x="101.80" y="349.30" width="4.35" height="4.33" fill="#efc4b6"/><rect x="106.10" y="349.30" width="4.35" height="4.33" fill="#edb285"/><rect x="110.40" y="349.30" width="4.35" height="4.33" fill="#efc4b6"/><rect x="114.70" y="349.30" width="12.95" height="4.33" fill="#f1e2e0"/><rect x="127.60" y="349.30" width="8.65" height="4.33" fill="#f2f2f2"/><rect x="136.20" y="349.30" width="4.35" height="4.33" fill="#f1e2e0"/><rect x="84.60" y="353.57" width="21.55" height="4.33" fill="#edb285"/><rect x="106.10" y="353.57" width="4.35" height="4.33" fill="#efc4b6"/><rect x="110.40" y="353.57" width="4.35" height="4.33" fill="#edb285"/><rect x="114.70" y="353.57" width="12.95" height="4.33" fill="#efc4b6"/><rect x="127.60" y="353.57" width="4.35" height="4.33" fill="#f1e2e0"/><rect x="131.90" y="353.57" width="4.35" height="4.33" fill="#f2f2f2"/><rect x="136.20" y="353.57" width="4.35" height="4.33" fill="#edb285"/><rect x="76.00" y="357.85" width="4.35" height="4.33" fill="#efc4b6"/><rect x="80.30" y="357.85" width="8.65" height="4.33" fill="#edb285"/><rect x="88.90" y="357.85" width="8.65" height="4.33" fill="#ebb25e"/><rect x="97.50" y="357.85" width="30.15" height="4.33" fill="#edb285"/><rect x="127.60" y="357.85" width="4.35" height="4.33" fill="#efc4b6"/><rect x="131.90" y="357.85" width="4.35" height="4.33" fill="#e6e600"/><rect x="136.20" y="357.85" width="4.35" height="4.33" fill="#55c200"/><rect x="63.10" y="362.12" width="12.95" height="4.33" fill="#efc4b6"/><rect x="76.00" y="362.12" width="8.65" height="4.33" fill="#edb285"/><rect x="84.60" y="362.12" width="12.95" height="4.33" fill="#ebb25e"/><rect x="97.50" y="362.12" width="8.65" height="4.33" fill="#edb285"/><rect x="106.10" y="362.12" width="4.35" height="4.33" fill="#ebb25e"/><rect x="110.40" y="362.12" width="12.95" height="4.33" fill="#edb285"/><rect x="123.30" y="362.12" width="4.35" height="4.33" fill="#e6e600"/><rect x="127.60" y="362.12" width="12.95" height="4.33" fill="#55c200"/><rect x="54.50" y="366.40" width="4.35" height="4.33" fill="#efc4b6"/><rect x="58.80" y="366.40" width="4.35" height="4.33" fill="#f1e2e0"/><rect x="63.10" y="366.40" width="8.65" height="4.33" fill="#efc4b6"/><rect x="71.70" y="366.40" width="8.65" height="4.33" fill="#edb285"/><rect x="80.30" y="366.40" width="4.35" height="4.33" fill="#ebb25e"/><rect x="84.60" y="366.40" width="8.65" height="4.33" fill="#e8c033"/><rect x="93.20" y="366.40" width="4.35" height="4.33" fill="#ebb25e"/><rect x="97.50" y="366.40" width="4.35" height="4.33" fill="#edb285"/><rect x="101.80" y="366.40" width="12.95" height="4.33" fill="#ebb25e"/><rect x="114.70" y="366.40" width="4.35" height="4.33" fill="#e8c033"/><rect x="119.00" y="366.40" width="4.35" height="4.33" fill="#e6e600"/><rect x="123.30" y="366.40" width="4.35" height="4.33" fill="#55c200"/><rect x="127.60" y="366.40" width="4.35" height="4.33" fill="#11ac00"/><rect x="131.90" y="366.40" width="4.35" height="4.33" fill="#55c200"/><rect x="136.20" y="366.40" width="4.35" height="4.33" fill="#a3d600"/><rect x="54.50" y="370.68" width="4.35" height="4.33" fill="#efc4b6"/><rect x="58.80" y="370.68" width="4.35" height="4.33" fill="#f1e2e0"/><rect x="63.10" y="370.68" width="4.35" height="4.33" fill="#edb285"/><rect x="67.40" y="370.68" width="4.35" height="4.33" fill="#e8c033"/><rect x="71.70" y="370.68" width="4.35" height="4.33" fill="#e6e600"/><rect x="76.00" y="370.68" width="4.35" height="4.33" fill="#a3d600"/><rect x="80.30" y="370.68" width="12.95" height="4.33" fill="#55c200"/><rect x="93.20" y="370.68" width="4.35" height="4.33" fill="#e6e600"/><rect x="97.50" y="370.68" width="4.35" height="4.33" fill="#e8c033"/><rect x="101.80" y="370.68" width="8.65" height="4.33" fill="#ebb25e"/><rect x="110.40" y="370.68" width="4.35" height="4.33" fill="#e8c033"/><rect x="114.70" y="370.68" width="4.35" height="4.33" fill="#e6e600"/><rect x="119.00" y="370.68" width="4.35" height="4.33" fill="#55c200"/><rect x="123.30" y="370.68" width="4.35" height="4.33" fill="#11ac00"/><rect x="127.60" y="370.68" width="12.95" height="4.33" fill="#55c200"/><rect x="54.50" y="374.95" width="4.35" height="4.33" fill="#f1e2e0"/><rect x="58.80" y="374.95" width="4.35" height="4.33" fill="#efc4b6"/><rect x="63.10" y="374.95" width="4.35" height="4.33" fill="#e8c033"/><rect x="67.40" y="374.95" width="12.95" height="4.33" fill="#55c200"/><rect x="80.30" y="374.95" width="4.35" height="4.33" fill="#a3d600"/><rect x="84.60" y="374.95" width="4.35" height="4.33" fill="#e6e600"/><rect x="88.90" y="374.95" width="4.35" height="4.33" fill="#a3d600"/><rect x="93.20" y="374.95" width="8.65" height="4.33" fill="#55c200"/><rect x="101.80" y="374.95" width="4.35" height="4.33" fill="#a3d600"/><rect x="106.10" y="374.95" width="4.35" height="4.33" fill="#e6e600"/><rect x="110.40" y="374.95" width="4.35" height="4.33" fill="#a3d600"/><rect x="114.70" y="374.95" width="8.65" height="4.33" fill="#55c200"/><rect x="123.30" y="374.95" width="4.35" height="4.33" fill="#a3d600"/><rect x="127.60" y="374.95" width="4.35" height="4.33" fill="#e6e600"/><rect x="131.90" y="374.95" width="8.65" height="4.33" fill="#a3d600"/><rect x="54.50" y="379.23" width="4.35" height="4.33" fill="#f1e2e0"/><rect x="58.80" y="379.23" width="4.35" height="4.33" fill="#efc4b6"/><rect x="63.10" y="379.23" width="4.35" height="4.33" fill="#edb285"/><rect x="67.40" y="379.23" width="4.35" height="4.33" fill="#ebb25e"/><rect x="71.70" y="379.23" width="8.65" height="4.33" fill="#e8c033"/><rect x="80.30" y="379.23" width="8.65" height="4.33" fill="#ebb25e"/><rect x="88.90" y="379.23" width="4.35" height="4.33" fill="#e8c033"/><rect x="93.20" y="379.23" width="4.35" height="4.33" fill="#e6e600"/><rect x="97.50" y="379.23" width="4.35" height="4.33" fill="#a3d600"/><rect x="101.80" y="379.23" width="8.65" height="4.33" fill="#11ac00"/><rect x="110.40" y="379.23" width="4.35" height="4.33" fill="#55c200"/><rect x="114.70" y="379.23" width="4.35" height="4.33" fill="#e6e600"/><rect x="119.00" y="379.23" width="12.95" height="4.33" fill="#e8c033"/><rect x="131.90" y="379.23" width="4.35" height="4.33" fill="#e6e600"/><rect x="54.50" y="383.50" width="4.35" height="4.33" fill="#f1e2e0"/><rect x="58.80" y="383.50" width="4.35" height="4.33" fill="#efc4b6"/><rect x="63.10" y="383.50" width="4.35" height="4.33" fill="#edb285"/><rect x="67.40" y="383.50" width="4.35" height="4.33" fill="#efc4b6"/><rect x="71.70" y="383.50" width="21.55" height="4.33" fill="#edb285"/><rect x="93.20" y="383.50" width="8.65" height="4.33" fill="#ebb25e"/><rect x="101.80" y="383.50" width="8.65" height="4.33" fill="#e6e600"/><rect x="110.40" y="383.50" width="4.35" height="4.33" fill="#e8c033"/><rect x="114.70" y="383.50" width="4.35" height="4.33" fill="#ebb25e"/><rect x="119.00" y="383.50" width="4.35" height="4.33" fill="#e8c033"/><rect x="123.30" y="383.50" width="4.35" height="4.33" fill="#ebb25e"/><rect x="127.60" y="383.50" width="4.35" height="4.33" fill="#e8c033"/><rect x="131.90" y="383.50" width="4.35" height="4.33" fill="#ebb25e"/><rect x="54.50" y="387.78" width="8.65" height="4.33" fill="#f1e2e0"/><rect x="63.10" y="387.78" width="8.65" height="4.33" fill="#edb285"/><rect x="71.70" y="387.78" width="4.35" height="4.33" fill="#ebb25e"/><rect x="76.00" y="387.78" width="30.15" height="4.33" fill="#edb285"/><rect x="106.10" y="387.78" width="8.65" height="4.33" fill="#ebb25e"/><rect x="114.70" y="387.78" width="4.35" height="4.33" fill="#edb285"/><rect x="119.00" y="387.78" width="8.65" height="4.33" fill="#ebb25e"/><rect x="127.60" y="387.78" width="8.65" height="4.33" fill="#e8c033"/><rect x="63.10" y="392.05" width="25.85" height="4.33" fill="#edb285"/><rect x="88.90" y="392.05" width="4.35" height="4.33" fill="#efc4b6"/><rect x="93.20" y="392.05" width="8.65" height="4.33" fill="#edb285"/><rect x="101.80" y="392.05" width="4.35" height="4.33" fill="#efc4b6"/><rect x="106.10" y="392.05" width="4.35" height="4.33" fill="#edb285"/><rect x="110.40" y="392.05" width="4.35" height="4.33" fill="#efc4b6"/><rect x="114.70" y="392.05" width="4.35" height="4.33" fill="#edb285"/><rect x="119.00" y="392.05" width="17.25" height="4.33" fill="#ebb25e"/><rect x="88.90" y="396.33" width="12.95" height="4.33" fill="#edb285"/><rect x="101.80" y="396.33" width="4.35" height="4.33" fill="#efc4b6"/><rect x="106.10" y="396.33" width="12.95" height="4.33" fill="#edb285"/><rect x="119.00" y="396.33" width="12.95" height="4.33" fill="#ebb25e"/><rect x="131.90" y="396.33" width="4.35" height="4.33" fill="#edb285"/></g>
<rect x="20.50" y="346.30" width="155.00" height="56.50" fill="none" stroke="#3a3a3a" stroke-width="1"/>
<line x1="16.30" y1="353.10" x2="20.50" y2="353.10" stroke="#444" stroke-width="1"/>
<line x1="16.30" y1="367.20" x2="20.50" y2="367.20" stroke="#444" stroke-width="1"/>
<line x1="16.30" y1="381.10" x2="20.50" y2="381.10" stroke="#444" stroke-width="1"/>
<line x1="16.30" y1="395.00" x2="20.50" y2="395.00" stroke="#444" stroke-width="1"/>
<line x1="28.90" y1="402.80" x2="28.90" y2="407.20" stroke="#444" stroke-width="1"/>
<line x1="63.90" y1="402.80" x2="63.90" y2="407.20" stroke="#444" stroke-width="1"/>
<line x1="98.90" y1="402.80" x2="98.90" y2="407.20" stroke="#444" stroke-width="1"/>
<line x1="133.90" y1="402.80" x2="133.90" y2="407.20" stroke="#444" stroke-width="1"/>
<line x1="168.90" y1="402.80" x2="168.90" y2="407.20" stroke="#444" stroke-width="1"/>
<text x="28.90" y="418.00" font-family="Liberation Sans, sans-serif" font-size="7.2" font-weight="normal" text-anchor="middle" fill="#2a2a3a" textLength="22.0" lengthAdjust="spacingAndGlyphs" stroke="#2a2a3a" stroke-width="0.2">228500</text>
<text x="63.90" y="418.00" font-family="Liberation Sans, sans-serif" font-size="7.2" font-weight="normal" text-anchor="middle" fill="#2a2a3a" textLength="22.0" lengthAdjust="spacingAndGlyphs" stroke="#2a2a3a" stroke-width="0.2">229000</text>
<text x="98.90" y="418.00" font-family="Liberation Sans, sans-serif" font-size="7.2" font-weight="normal" text-anchor="middle" fill="#2a2a3a" textLength="22.0" lengthAdjust="spacingAndGlyphs" stroke="#2a2a3a" stroke-width="0.2">229500</text>
<text x="133.90" y="418.00" font-family="Liberation Sans, sans-serif" font-size="7.2" font-weight="normal" text-anchor="middle" fill="#2a2a3a" textLength="22.0" lengthAdjust="spacingAndGlyphs" stroke="#2a2a3a" stroke-width="0.2">230000</text>
<text x="168.90" y="418.00" font-family="Liberation Sans, sans-serif" font-size="7.2" font-weight="normal" text-anchor="middle" fill="#2a2a3a" textLength="22.0" lengthAdjust="spacingAndGlyphs" stroke="#2a2a3a" stroke-width="0.2">230500</text>
<text x="0" y="0" transform="translate(12.00,353.10) rotate(-90)" font-family="Liberation Sans, sans-serif" font-size="7.2" text-anchor="middle" fill="#2a2a3a" stroke="#2a2a3a" stroke-width="0.2" textLength="25.5" lengthAdjust="spacingAndGlyphs">6875000</text>
<text x="0" y="0" transform="translate(12.00,395.00) rotate(-90)" font-family="Liberation Sans, sans-serif" font-size="7.2" text-anchor="middle" fill="#2a2a3a" stroke="#2a2a3a" stroke-width="0.2" textLength="25.5" lengthAdjust="spacingAndGlyphs">6874400</text>
<text x="98.00" y="341.40" font-family="Liberation Sans, sans-serif" font-size="8.5" font-weight="bold" text-anchor="middle" fill="#111" textLength="59.57" lengthAdjust="spacingAndGlyphs" stroke="#111" stroke-width="0.15">Mean Observed</text>
<defs><linearGradient id="g30" x1="0" y1="0" x2="0" y2="1"><stop offset="0.0" stop-color="#00a600"/><stop offset="0.1" stop-color="#24b200"/><stop offset="0.2" stop-color="#4cbf00"/><stop offset="0.3" stop-color="#7acc00"/><stop offset="0.4" stop-color="#add900"/><stop offset="0.5" stop-color="#e6e600"/><stop offset="0.6" stop-color="#e8c32e"/><stop offset="0.7" stop-color="#ebb25e"/><stop offset="0.8" stop-color="#edb48e"/><stop offset="0.9" stop-color="#f0c9c0"/><stop offset="1.0" stop-color="#f2f2f2"/></linearGradient></defs>
<rect x="185.30" y="360.20" width="3.60" height="28.00" fill="url(#g30)" stroke="#4a4a4a" stroke-width="0.9"/>
<line x1="188.90" y1="362.10" x2="191.90" y2="362.10" stroke="#444" stroke-width="0.9"/>
<text x="194.50" y="364.62" font-family="Liberation Sans, sans-serif" font-size="7.0" font-weight="normal" text-anchor="start" fill="#2a2a3a" stroke="#2a2a3a" stroke-width="0.2">2.4</text>
<line x1="188.90" y1="366.30" x2="191.90" y2="366.30" stroke="#444" stroke-width="0.9"/>
<line x1="188.90" y1="370.50" x2="191.90" y2="370.50" stroke="#444" stroke-width="0.9"/>
<text x="194.50" y="373.02" font-family="Liberation Sans, sans-serif" font-size="7.0" font-weight="normal" text-anchor="start" fill="#2a2a3a" stroke="#2a2a3a" stroke-width="0.2">2.0</text>
<line x1="188.90" y1="374.70" x2="191.90" y2="374.70" stroke="#444" stroke-width="0.9"/>
<line x1="188.90" y1="378.90" x2="191.90" y2="378.90" stroke="#444" stroke-width="0.9"/>
<text x="194.50" y="381.42" font-family="Liberation Sans, sans-serif" font-size="7.0" font-weight="normal" text-anchor="start" fill="#2a2a3a" stroke="#2a2a3a" stroke-width="0.2">1.6</text>
<line x1="188.90" y1="383.10" x2="191.90" y2="383.10" stroke="#444" stroke-width="0.9"/>
<line x1="188.90" y1="387.30" x2="191.90" y2="387.30" stroke="#444" stroke-width="0.9"/>
<text x="194.50" y="389.82" font-family="Liberation Sans, sans-serif" font-size="7.0" font-weight="normal" text-anchor="start" fill="#2a2a3a" stroke="#2a2a3a" stroke-width="0.2">1.2</text>
<defs><filter id="b207_325" x="-10%" y="-10%" width="120%" height="120%"><feGaussianBlur stdDeviation="1.0"/></filter></defs><g filter="url(#b207_325)"><rect x="300.30" y="349.30" width="12.95" height="4.33" fill="#ebb25e"/><rect x="313.20" y="349.30" width="4.35" height="4.33" fill="#edb285"/><rect x="317.50" y="349.30" width="4.35" height="4.33" fill="#efc4b6"/><rect x="321.80" y="349.30" width="12.95" height="4.33" fill="#f1e2e0"/><rect x="334.70" y="349.30" width="4.35" height="4.33" fill="#f2f2f2"/><rect x="339.00" y="349.30" width="4.35" height="4.33" fill="#f1e2e0"/><rect x="343.30" y="349.30" width="4.35" height="4.33" fill="#edb285"/><rect x="291.70" y="353.57" width="4.35" height="4.33" fill="#ebb25e"/><rect x="296.00" y="353.57" width="4.35" height="4.33" fill="#e8c033"/><rect x="300.30" y="353.57" width="12.95" height="4.33" fill="#ebb25e"/><rect x="313.20" y="353.57" width="4.35" height="4.33" fill="#efc4b6"/><rect x="317.50" y="353.57" width="17.25" height="4.33" fill="#ebb25e"/><rect x="334.70" y="353.57" width="4.35" height="4.33" fill="#f1e2e0"/><rect x="339.00" y="353.57" width="4.35" height="4.33" fill="#efc4b6"/><rect x="343.30" y="353.57" width="4.35" height="4.33" fill="#e8c033"/><rect x="287.40" y="357.85" width="4.35" height="4.33" fill="#ebb25e"/><rect x="291.70" y="357.85" width="4.35" height="4.33" fill="#e8c033"/><rect x="296.00" y="357.85" width="8.65" height="4.33" fill="#e6e600"/><rect x="304.60" y="357.85" width="4.35" height="4.33" fill="#e8c033"/><rect x="308.90" y="357.85" width="4.35" height="4.33" fill="#ebb25e"/><rect x="313.20" y="357.85" width="4.35" height="4.33" fill="#edb285"/><rect x="317.50" y="357.85" width="8.65" height="4.33" fill="#ebb25e"/><rect x="326.10" y="357.85" width="4.35" height="4.33" fill="#e8c033"/><rect x="330.40" y="357.85" width="12.95" height="4.33" fill="#a3d600"/><rect x="343.30" y="357.85" width="4.35" height="4.33" fill="#55c200"/><rect x="270.20" y="362.12" width="8.65" height="4.33" fill="#ebb25e"/><rect x="278.80" y="362.12" width="4.35" height="4.33" fill="#e8c033"/><rect x="283.10" y="362.12" width="4.35" height="4.33" fill="#e6e600"/><rect x="287.40" y="362.12" width="12.95" height="4.33" fill="#a3d600"/><rect x="300.30" y="362.12" width="12.95" height="4.33" fill="#e6e600"/><rect x="313.20" y="362.12" width="8.65" height="4.33" fill="#e8c033"/><rect x="321.80" y="362.12" width="4.35" height="4.33" fill="#ebb25e"/><rect x="326.10" y="362.12" width="4.35" height="4.33" fill="#a3d600"/><rect x="330.40" y="362.12" width="17.25" height="4.33" fill="#11ac00"/><rect x="265.90" y="366.40" width="4.35" height="4.33" fill="#edb285"/><rect x="270.20" y="366.40" width="4.35" height="4.33" fill="#e8c033"/><rect x="274.50" y="366.40" width="4.35" height="4.33" fill="#e6e600"/><rect x="278.80" y="366.40" width="12.95" height="4.33" fill="#a3d600"/><rect x="291.70" y="366.40" width="8.65" height="4.33" fill="#55c200"/><rect x="300.30" y="366.40" width="8.65" height="4.33" fill="#a3d600"/><rect x="308.90" y="366.40" width="12.95" height="4.33" fill="#e6e600"/><rect x="321.80" y="366.40" width="4.35" height="4.33" fill="#a3d600"/><rect x="326.10" y="366.40" width="4.35" height="4.33" fill="#55c200"/><rect x="330.40" y="366.40" width="17.25" height="4.33" fill="#11ac00"/><rect x="261.60" y="370.68" width="4.35" height="4.33" fill="#ebb25e"/><rect x="265.90" y="370.68" width="4.35" height="4.33" fill="#edb285"/><rect x="270.20" y="370.68" width="4.35" height="4.33" fill="#e8c033"/><rect x="274.50" y="370.68" width="4.35" height="4.33" fill="#a3d600"/><rect x="278.80" y="370.68" width="8.65" height="4.33" fill="#55c200"/><rect x="287.40" y="370.68" width="12.95" height="4.33" fill="#11ac00"/><rect x="300.30" y="370.68" width="4.35" height="4.33" fill="#55c200"/><rect x="304.60" y="370.68" width="8.65" height="4.33" fill="#a3d600"/><rect x="313.20" y="370.68" width="12.95" height="4.33" fill="#55c200"/><rect x="326.10" y="370.68" width="21.55" height="4.33" fill="#11ac00"/><rect x="261.60" y="374.95" width="4.35" height="4.33" fill="#edb285"/><rect x="265.90" y="374.95" width="4.35" height="4.33" fill="#ebb25e"/><rect x="270.20" y="374.95" width="4.35" height="4.33" fill="#e6e600"/><rect x="274.50" y="374.95" width="4.35" height="4.33" fill="#55c200"/><rect x="278.80" y="374.95" width="21.55" height="4.33" fill="#11ac00"/><rect x="300.30" y="374.95" width="4.35" height="4.33" fill="#55c200"/><rect x="304.60" y="374.95" width="30.15" height="4.33" fill="#11ac00"/><rect x="334.70" y="374.95" width="8.65" height="4.33" fill="#55c200"/><rect x="343.30" y="374.95" width="4.35" height="4.33" fill="#e6e600"/><rect x="261.60" y="379.23" width="4.35" height="4.33" fill="#edb285"/><rect x="265.90" y="379.23" width="4.35" height="4.33" fill="#ebb25e"/><rect x="270.20" y="379.23" width="12.95" height="4.33" fill="#e6e600"/><rect x="283.10" y="379.23" width="4.35" height="4.33" fill="#a3d600"/><rect x="287.40" y="379.23" width="12.95" height="4.33" fill="#55c200"/><rect x="300.30" y="379.23" width="4.35" height="4.33" fill="#a3d600"/><rect x="304.60" y="379.23" width="4.35" height="4.33" fill="#55c200"/><rect x="308.90" y="379.23" width="8.65" height="4.33" fill="#11ac00"/><rect x="317.50" y="379.23" width="8.65" height="4.33" fill="#55c200"/><rect x="326.10" y="379.23" width="4.35" height="4.33" fill="#11ac00"/><rect x="330.40" y="379.23" width="8.65" height="4.33" fill="#a3d600"/><rect x="339.00" y="379.23" width="4.35" height="4.33" fill="#e6e600"/><rect x="261.60" y="383.50" width="8.65" height="4.33" fill="#edb285"/><rect x="270.20" y="383.50" width="12.95" height="4.33" fill="#e8c033"/><rect x="283.10" y="383.50" width="25.85" height="4.33" fill="#e6e600"/><rect x="308.90" y="383.50" width="12.95" height="4.33" fill="#a3d600"/><rect x="321.80" y="383.50" width="4.35" height="4.33" fill="#e6e600"/><rect x="326.10" y="383.50" width="4.35" height="4.33" fill="#55c200"/><rect x="330.40" y="383.50" width="12.95" height="4.33" fill="#e6e600"/><rect x="261.60" y="387.78" width="4.35" height="4.33" fill="#ebb25e"/><rect x="265.90" y="387.78" width="4.35" height="4.33" fill="#edb285"/><rect x="270.20" y="387.78" width="4.35" height="4.33" fill="#ebb25e"/><rect x="274.50" y="387.78" width="4.35" height="4.33" fill="#e8c033"/><rect x="278.80" y="387.78" width="4.35" height="4.33" fill="#e6e600"/><rect x="283.10" y="387.78" width="4.35" height="4.33" fill="#e8c033"/><rect x="287.40" y="387.78" width="4.35" height="4.33" fill="#e6e600"/><rect x="291.70" y="387.78" width="12.95" height="4.33" fill="#e8c033"/><rect x="304.60" y="387.78" width="8.65" height="4.33" fill="#ebb25e"/><rect x="313.20" y="387.78" width="17.25" height="4.33" fill="#e8c033"/><rect x="330.40" y="387.78" width="12.95" height="4.33" fill="#e6e600"/><rect x="270.20" y="392.05" width="21.55" height="4.33" fill="#ebb25e"/><rect x="291.70" y="392.05" width="4.35" height="4.33" fill="#edb285"/><rect x="296.00" y="392.05" width="25.85" height="4.33" fill="#ebb25e"/><rect x="321.80" y="392.05" width="4.35" height="4.33" fill="#e8c033"/><rect x="326.10" y="392.05" width="12.95" height="4.33" fill="#e6e600"/><rect x="339.00" y="392.05" width="4.35" height="4.33" fill="#e8c033"/><rect x="296.00" y="396.33" width="8.65" height="4.33" fill="#edb285"/><rect x="304.60" y="396.33" width="12.95" height="4.33" fill="#efc4b6"/><rect x="317.50" y="396.33" width="4.35" height="4.33" fill="#edb285"/><rect x="321.80" y="396.33" width="4.35" height="4.33" fill="#ebb25e"/><rect x="326.10" y="396.33" width="12.95" height="4.33" fill="#e8c033"/><rect x="339.00" y="396.33" width="4.35" height="4.33" fill="#ebb25e"/></g>
<rect x="227.60" y="346.30" width="155.00" height="56.50" fill="none" stroke="#3a3a3a" stroke-width="1"/>
<line x1="223.40" y1="353.10" x2="227.60" y2="353.10" stroke="#444" stroke-width="1"/>
<line x1="223.40" y1="367.20" x2="227.60" y2="367.20" stroke="#444" stroke-width="1"/>
<line x1="223.40" y1="381.10" x2="227.60" y2="381.10" stroke="#444" stroke-width="1"/>
<line x1="223.40" y1="395.00" x2="227.60" y2="395.00" stroke="#444" stroke-width="1"/>
<line x1="236.00" y1="402.80" x2="236.00" y2="407.20" stroke="#444" stroke-width="1"/>
<line x1="271.00" y1="402.80" x2="271.00" y2="407.20" stroke="#444" stroke-width="1"/>
<line x1="306.00" y1="402.80" x2="306.00" y2="407.20" stroke="#444" stroke-width="1"/>
<line x1="341.00" y1="402.80" x2="341.00" y2="407.20" stroke="#444" stroke-width="1"/>
<line x1="376.00" y1="402.80" x2="376.00" y2="407.20" stroke="#444" stroke-width="1"/>
<text x="236.00" y="418.00" font-family="Liberation Sans, sans-serif" font-size="7.2" font-weight="normal" text-anchor="middle" fill="#2a2a3a" textLength="22.0" lengthAdjust="spacingAndGlyphs" stroke="#2a2a3a" stroke-width="0.2">228500</text>
<text x="271.00" y="418.00" font-family="Liberation Sans, sans-serif" font-size="7.2" font-weight="normal" text-anchor="middle" fill="#2a2a3a" textLength="22.0" lengthAdjust="spacingAndGlyphs" stroke="#2a2a3a" stroke-width="0.2">229000</text>
<text x="306.00" y="418.00" font-family="Liberation Sans, sans-serif" font-size="7.2" font-weight="normal" text-anchor="middle" fill="#2a2a3a" textLength="22.0" lengthAdjust="spacingAndGlyphs" stroke="#2a2a3a" stroke-width="0.2">229500</text>
<text x="341.00" y="418.00" font-family="Liberation Sans, sans-serif" font-size="7.2" font-weight="normal" text-anchor="middle" fill="#2a2a3a" textLength="22.0" lengthAdjust="spacingAndGlyphs" stroke="#2a2a3a" stroke-width="0.2">230000</text>
<text x="376.00" y="418.00" font-family="Liberation Sans, sans-serif" font-size="7.2" font-weight="normal" text-anchor="middle" fill="#2a2a3a" textLength="22.0" lengthAdjust="spacingAndGlyphs" stroke="#2a2a3a" stroke-width="0.2">230500</text>
<text x="0" y="0" transform="translate(219.10,353.10) rotate(-90)" font-family="Liberation Sans, sans-serif" font-size="7.2" text-anchor="middle" fill="#2a2a3a" stroke="#2a2a3a" stroke-width="0.2" textLength="25.5" lengthAdjust="spacingAndGlyphs">6875000</text>
<text x="0" y="0" transform="translate(219.10,395.00) rotate(-90)" font-family="Liberation Sans, sans-serif" font-size="7.2" text-anchor="middle" fill="#2a2a3a" stroke="#2a2a3a" stroke-width="0.2" textLength="25.5" lengthAdjust="spacingAndGlyphs">6874400</text>
<text x="305.10" y="341.40" font-family="Liberation Sans, sans-serif" font-size="8.5" font-weight="bold" text-anchor="middle" fill="#111" textLength="59.12" lengthAdjust="spacingAndGlyphs" stroke="#111" stroke-width="0.15">Mean Predicted</text>
<defs><linearGradient id="g31" x1="0" y1="0" x2="0" y2="1"><stop offset="0.0" stop-color="#00a600"/><stop offset="0.1" stop-color="#24b200"/><stop offset="0.2" stop-color="#4cbf00"/><stop offset="0.3" stop-color="#7acc00"/><stop offset="0.4" stop-color="#add900"/><stop offset="0.5" stop-color="#e6e600"/><stop offset="0.6" stop-color="#e8c32e"/><stop offset="0.7" stop-color="#ebb25e"/><stop offset="0.8" stop-color="#edb48e"/><stop offset="0.9" stop-color="#f0c9c0"/><stop offset="1.0" stop-color="#f2f2f2"/></linearGradient></defs>
<rect x="392.20" y="360.20" width="3.60" height="28.20" fill="url(#g31)" stroke="#4a4a4a" stroke-width="0.9"/>
<line x1="395.80" y1="361.30" x2="398.80" y2="361.30" stroke="#444" stroke-width="0.9"/>
<line x1="395.80" y1="366.00" x2="398.80" y2="366.00" stroke="#444" stroke-width="0.9"/>
<text x="402.10" y="369.42" font-family="Liberation Sans, sans-serif" font-size="7.4" font-weight="normal" text-anchor="start" fill="#2a2a3a" stroke="#2a2a3a" stroke-width="0.2">2.0</text>
<line x1="395.80" y1="370.70" x2="398.80" y2="370.70" stroke="#444" stroke-width="0.9"/>
<line x1="395.80" y1="375.40" x2="398.80" y2="375.40" stroke="#444" stroke-width="0.9"/>
<text x="402.10" y="378.82" font-family="Liberation Sans, sans-serif" font-size="7.4" font-weight="normal" text-anchor="start" fill="#2a2a3a" stroke="#2a2a3a" stroke-width="0.2">1.8</text>
<line x1="395.80" y1="380.10" x2="398.80" y2="380.10" stroke="#444" stroke-width="0.9"/>
<line x1="395.80" y1="384.80" x2="398.80" y2="384.80" stroke="#444" stroke-width="0.9"/>
<text x="402.10" y="388.22" font-family="Liberation Sans, sans-serif" font-size="7.4" font-weight="normal" text-anchor="start" fill="#2a2a3a" stroke="#2a2a3a" stroke-width="0.2">1.6</text>
<line x1="3.50" y1="3.70" x2="544.50" y2="3.70" stroke="#a8a8a8" stroke-width="1"/>
<line x1="4.20" y1="3.50" x2="4.20" y2="427.00" stroke="#5a5a5a" stroke-width="1"/>
<line x1="544.40" y1="3.50" x2="544.40" y2="427.00" stroke="#555" stroke-width="1"/>
<line x1="4.00" y1="426.80" x2="545.00" y2="426.80" stroke="#4a4a4a" stroke-width="1"/>
<line x1="4.00" y1="331.60" x2="545.00" y2="331.60" stroke="#555" stroke-width="1"/>
<text x="422.30" y="26.70" font-family="Liberation Sans, sans-serif" font-size="8.8" font-weight="bold" text-anchor="start" fill="#000" textLength="76.3" lengthAdjust="spacingAndGlyphs" stroke="#000" stroke-width="0.25">Year 1 Validation</text>
<text x="422.30" y="40.00" font-family="Liberation Sans, sans-serif" font-size="8.8" font-weight="bold" text-anchor="start" fill="#000" textLength="34.9" lengthAdjust="spacingAndGlyphs" stroke="#000" stroke-width="0.25">Statistic</text>
<text x="422.30" y="54.30" font-family="Liberation Sans, sans-serif" font-size="9.6" fill="#262626" stroke="#262626" stroke-width="0.22" textLength="19.8" lengthAdjust="spacingAndGlyphs">CCC</text>
<text x="442.30" y="54.30" font-family="Liberation Sans, sans-serif" font-size="6.2" fill="#505060" textLength="5.0" lengthAdjust="spacingAndGlyphs">Y</text>
<text x="448.70" y="54.30" font-family="Liberation Sans, sans-serif" font-size="9.6" fill="#888">:</text>
<text x="454.00" y="54.30" font-family="Liberation Sans, sans-serif" font-size="9.6" fill="#262626" stroke="#262626" stroke-width="0.22" textLength="18.2" lengthAdjust="spacingAndGlyphs">0.47</text>
<text x="422.30" y="119.60" font-family="Liberation Sans, sans-serif" font-size="8.8" font-weight="bold" text-anchor="start" fill="#000" textLength="76.3" lengthAdjust="spacingAndGlyphs" stroke="#000" stroke-width="0.25">Year 2 Validation</text>
<text x="422.30" y="133.10" font-family="Liberation Sans, sans-serif" font-size="8.8" font-weight="bold" text-anchor="start" fill="#000" textLength="34.9" lengthAdjust="spacingAndGlyphs" stroke="#000" stroke-width="0.25">Statistic</text>
<text x="422.30" y="146.90" font-family="Liberation Sans, sans-serif" font-size="9.6" fill="#262626" stroke="#262626" stroke-width="0.22" textLength="19.8" lengthAdjust="spacingAndGlyphs">CCC</text>
<text x="442.30" y="146.90" font-family="Liberation Sans, sans-serif" font-size="6.2" fill="#505060" textLength="5.0" lengthAdjust="spacingAndGlyphs">Y</text>
<text x="448.70" y="146.90" font-family="Liberation Sans, sans-serif" font-size="9.6" fill="#888">:</text>
<text x="454.00" y="146.90" font-family="Liberation Sans, sans-serif" font-size="9.6" fill="#262626" stroke="#262626" stroke-width="0.22" textLength="18.2" lengthAdjust="spacingAndGlyphs">0.25</text>
<text x="422.30" y="160.20" font-family="Liberation Sans, sans-serif" font-size="9.4" fill="#262626" stroke="#262626" stroke-width="0.22" textLength="18.2" lengthAdjust="spacingAndGlyphs">CCC</text>
<text x="440.70" y="160.50" font-family="Liberation Sans, sans-serif" font-size="6.0" fill="#404050" textLength="15.0" lengthAdjust="spacingAndGlyphs">Rank</text>
<text x="456.90" y="160.20" font-family="Liberation Sans, sans-serif" font-size="9.4" fill="#303030">:</text>
<text x="461.70" y="160.20" font-family="Liberation Sans, sans-serif" font-size="9.6" fill="#262626" stroke="#262626" stroke-width="0.22" textLength="19.0" lengthAdjust="spacingAndGlyphs">0.78</text>
<text x="422.30" y="210.00" font-family="Liberation Sans, sans-serif" font-size="8.8" font-weight="bold" text-anchor="start" fill="#000" textLength="76.3" lengthAdjust="spacingAndGlyphs" stroke="#000" stroke-width="0.25">Year 3 Validation</text>
<text x="422.30" y="223.00" font-family="Liberation Sans, sans-serif" font-size="8.8" font-weight="bold" text-anchor="start" fill="#000" textLength="31.5" lengthAdjust="spacingAndGlyphs" stroke="#000" stroke-width="0.25">Statisti</text>
<text x="454.10" y="223.00" font-family="Liberation Sans, sans-serif" font-size="8.8" font-weight="normal" text-anchor="start" fill="#444">c</text>
<text x="422.30" y="237.00" font-family="Liberation Sans, sans-serif" font-size="9.6" fill="#262626" stroke="#262626" stroke-width="0.22" textLength="19.8" lengthAdjust="spacingAndGlyphs">CCC</text>
<text x="442.30" y="237.00" font-family="Liberation Sans, sans-serif" font-size="6.2" fill="#505060" textLength="5.0" lengthAdjust="spacingAndGlyphs">Y</text>
<text x="448.70" y="237.00" font-family="Liberation Sans, sans-serif" font-size="9.6" fill="#888">:</text>
<text x="454.00" y="237.00" font-family="Liberation Sans, sans-serif" font-size="9.6" fill="#262626" stroke="#262626" stroke-width="0.22" textLength="18.2" lengthAdjust="spacingAndGlyphs">0.47</text>
<text x="422.30" y="249.40" font-family="Liberation Sans, sans-serif" font-size="9.4" fill="#262626" stroke="#262626" stroke-width="0.22" textLength="18.2" lengthAdjust="spacingAndGlyphs">CCC</text>
<text x="440.70" y="249.70" font-family="Liberation Sans, sans-serif" font-size="6.0" fill="#404050" textLength="15.0" lengthAdjust="spacingAndGlyphs">Rank</text>
<text x="456.90" y="249.40" font-family="Liberation Sans, sans-serif" font-size="9.4" fill="#303030">:</text>
<text x="461.70" y="249.40" font-family="Liberation Sans, sans-serif" font-size="9.6" fill="#262626" stroke="#262626" stroke-width="0.22" textLength="19.0" lengthAdjust="spacingAndGlyphs">0.67</text>
<text x="423.20" y="284.10" font-family="Liberation Sans, sans-serif" font-size="8.8" font-weight="bold" text-anchor="start" fill="#000" textLength="112.2" lengthAdjust="spacingAndGlyphs" stroke="#000" stroke-width="0.25">Median of all single-year</text>
<text x="423.20" y="296.80" font-family="Liberation Sans, sans-serif" font-size="8.8" font-weight="bold" text-anchor="start" fill="#000" textLength="87.8" lengthAdjust="spacingAndGlyphs" stroke="#000" stroke-width="0.25">Validation statistics</text>
<text x="422.30" y="311.60" font-family="Liberation Sans, sans-serif" font-size="9.6" fill="#262626" stroke="#262626" stroke-width="0.22" textLength="19.8" lengthAdjust="spacingAndGlyphs">CCC</text>
<text x="442.30" y="311.60" font-family="Liberation Sans, sans-serif" font-size="6.2" fill="#505060" textLength="5.0" lengthAdjust="spacingAndGlyphs">Y</text>
<text x="448.70" y="311.60" font-family="Liberation Sans, sans-serif" font-size="9.6" fill="#888">:</text>
<text x="454.00" y="311.60" font-family="Liberation Sans, sans-serif" font-size="9.6" fill="#262626" stroke="#262626" stroke-width="0.22" textLength="18.2" lengthAdjust="spacingAndGlyphs">0.47</text>
<text x="422.30" y="324.00" font-family="Liberation Sans, sans-serif" font-size="9.4" fill="#262626" stroke="#262626" stroke-width="0.22" textLength="18.2" lengthAdjust="spacingAndGlyphs">CCC</text>
<text x="440.70" y="324.30" font-family="Liberation Sans, sans-serif" font-size="6.0" fill="#404050" textLength="15.0" lengthAdjust="spacingAndGlyphs">Rank</text>
<text x="456.90" y="324.00" font-family="Liberation Sans, sans-serif" font-size="9.4" fill="#303030">:</text>
<text x="461.70" y="324.00" font-family="Liberation Sans, sans-serif" font-size="9.6" fill="#262626" stroke="#262626" stroke-width="0.22" textLength="19.0" lengthAdjust="spacingAndGlyphs">0.75</text>
<text x="422.30" y="354.80" font-family="Liberation Sans, sans-serif" font-size="8.8" font-weight="bold" text-anchor="start" fill="#000" textLength="87.0" lengthAdjust="spacingAndGlyphs" stroke="#000" stroke-width="0.25">Multi-year-average</text>
<text x="422.30" y="367.60" font-family="Liberation Sans, sans-serif" font-size="8.8" font-weight="bold" text-anchor="start" fill="#000" textLength="87.0" lengthAdjust="spacingAndGlyphs" stroke="#000" stroke-width="0.25">Validation statistics</text>
<text x="422.30" y="382.10" font-family="Liberation Sans, sans-serif" font-size="9.6" fill="#262626" stroke="#262626" stroke-width="0.22" textLength="19.8" lengthAdjust="spacingAndGlyphs">CCC</text>
<text x="442.30" y="382.10" font-family="Liberation Sans, sans-serif" font-size="6.2" fill="#505060" textLength="5.0" lengthAdjust="spacingAndGlyphs">Y</text>
<text x="448.70" y="382.10" font-family="Liberation Sans, sans-serif" font-size="9.6" fill="#888">:</text>
<text x="454.00" y="382.10" font-family="Liberation Sans, sans-serif" font-size="9.6" fill="#262626" stroke="#262626" stroke-width="0.22" textLength="18.2" lengthAdjust="spacingAndGlyphs">0.52</text>
<text x="422.30" y="393.50" font-family="Liberation Sans, sans-serif" font-size="9.4" fill="#262626" stroke="#262626" stroke-width="0.22" textLength="18.2" lengthAdjust="spacingAndGlyphs">CCC</text>
<text x="440.70" y="393.80" font-family="Liberation Sans, sans-serif" font-size="6.0" fill="#404050" textLength="15.0" lengthAdjust="spacingAndGlyphs">Rank</text>
<text x="456.90" y="393.50" font-family="Liberation Sans, sans-serif" font-size="9.4" fill="#303030">:</text>
<text x="461.70" y="393.50" font-family="Liberation Sans, sans-serif" font-size="9.6" fill="#262626" stroke="#262626" stroke-width="0.22" textLength="19.0" lengthAdjust="spacingAndGlyphs">0.83</text></svg>
</body></html>
